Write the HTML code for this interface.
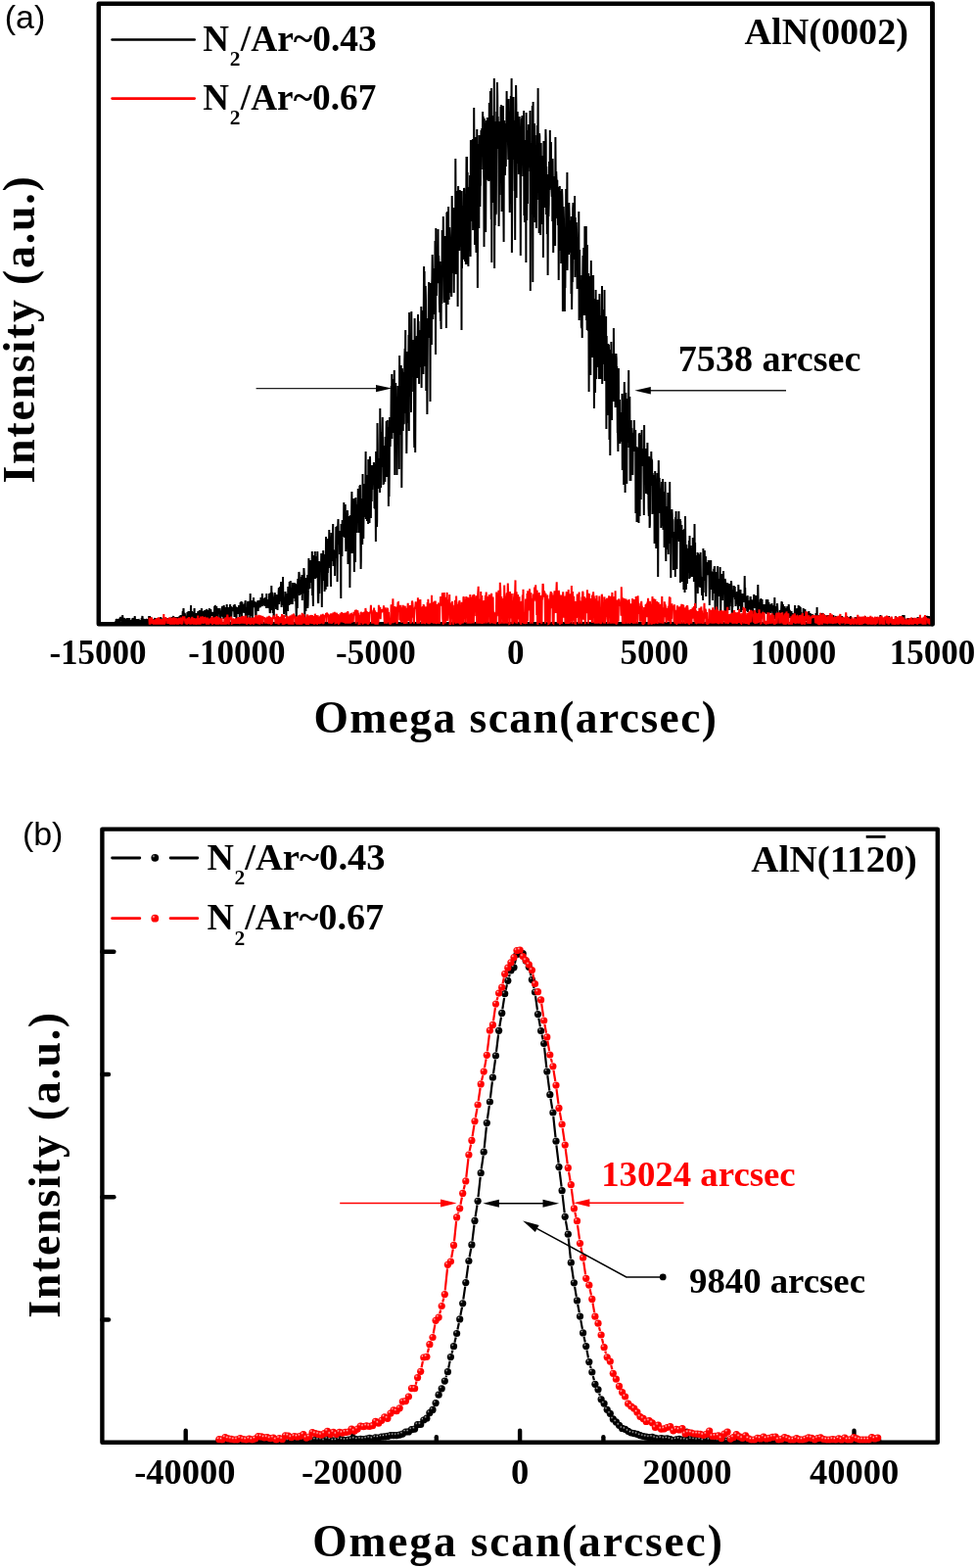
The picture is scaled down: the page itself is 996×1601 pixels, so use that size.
<!DOCTYPE html>
<html lang="en"><head><meta charset="utf-8"><title>XRD omega scans of AlN</title>
<style>
html,body{margin:0;padding:0;background:#fff;}
svg{display:block;}
text{font-family:"Liberation Serif", "Times New Roman", serif;font-weight:bold;fill:#000;}
.sans{font-family:"Liberation Sans", Arial, sans-serif;font-weight:normal;}
.red{fill:#ff0000;}
</style></head><body>
<svg width="996" height="1601" viewBox="0 0 996 1601">
<defs>
<radialGradient id="gk" cx="0.32" cy="0.3" r="0.5"><stop offset="0" stop-color="#bdbdbd"/><stop offset="0.3" stop-color="#222"/><stop offset="0.5" stop-color="#000"/></radialGradient>
<radialGradient id="gr" cx="0.32" cy="0.3" r="0.5"><stop offset="0" stop-color="#ffd0d0"/><stop offset="0.3" stop-color="#ff3030"/><stop offset="0.5" stop-color="#ff0000"/></radialGradient>
<clipPath id="ca"><rect x="100.8" y="0" width="850.2" height="640"/></clipPath>
</defs>
<rect width="996" height="1601" fill="#fff"/>
<rect x="100.8" y="3.7" width="851.7" height="633.6" fill="none" stroke="#000" stroke-width="4.5" stroke-linejoin="round"/>
<polyline fill="none" stroke="#000" stroke-width="2" stroke-linejoin="miter" stroke-miterlimit="2" points="118,634 118.3,635 118.6,634 118.8,632 119.1,633 119.4,632 119.7,634 119.9,636 120.2,633 120.5,633 120.8,636 121.1,635 121.3,635 121.6,632 121.9,634 122.2,636 122.4,631 122.7,633 123,630 123.3,631 123.6,630 123.8,634 124.1,631 124.4,635 124.7,635 125,634 125.2,628 125.5,633 125.8,634 126.1,635 126.3,631 126.6,633 126.9,632 127.2,632 127.5,636 127.7,632 128,634 128.3,636 128.6,633 128.8,634 129.1,635 129.4,634 129.7,631 130,634 130.2,636 130.5,631 130.8,636 131.1,635 131.3,633 131.6,636 131.9,636 132.2,631 132.5,634 132.7,636 133,634 133.3,636 133.6,634 133.9,636 134.1,636 134.4,633 134.7,635 135,633 135.2,635 135.5,631 135.8,633 136.1,634 136.4,636 136.6,636 136.9,631 137.2,632 137.5,636 137.7,629 138,633 138.3,634 138.6,636 138.9,636 139.1,633 139.4,633 139.7,634 140,636 140.2,633 140.5,633 140.8,635 141.1,634 141.4,634 141.6,632 141.9,634 142.2,633 142.5,636 142.8,636 143,634 143.3,636 143.6,633 143.9,636 144.1,634 144.4,636 144.7,631 145,635 145.3,630 145.5,629 145.8,633 146.1,632 146.4,635 146.6,636 146.9,632 147.2,633 147.5,635 147.8,636 148,634 148.3,634 148.6,636 148.9,636 149.1,632 149.4,634 149.7,634 150,632 150.3,635 150.5,632 150.8,636 151.1,635 151.4,635 151.6,633 151.9,634 152.2,629 152.5,632 152.8,635 153,629 153.3,636 153.6,630 153.9,636 154.2,632 154.4,636 154.7,635 155,631 155.3,636 155.5,636 155.8,634 156.1,634 156.4,634 156.7,632 156.9,636 157.2,633 157.5,634 157.8,632 158,633 158.3,631 158.6,636 158.9,634 159.2,636 159.4,634 159.7,633 160,633 160.3,633 160.5,634 160.8,633 161.1,633 161.4,631 161.7,632 161.9,636 162.2,633 162.5,632 162.8,635 163.1,636 163.3,631 163.6,634 163.9,633 164.2,630 164.4,636 164.7,634 165,634 165.3,632 165.6,636 165.8,633 166.1,634 166.4,632 166.7,631 166.9,636 167.2,633 167.5,635 167.8,634 168.1,633 168.3,633 168.6,636 168.9,633 169.2,634 169.4,634 169.7,636 170,636 170.3,636 170.6,633 170.8,631 171.1,636 171.4,636 171.7,634 171.9,636 172.2,636 172.5,636 172.8,636 173.1,633 173.3,636 173.6,631 173.9,636 174.2,636 174.5,636 174.7,636 175,636 175.3,631 175.6,630 175.8,636 176.1,632 176.4,634 176.7,636 177,630 177.2,629 177.5,635 177.8,634 178.1,634 178.3,634 178.6,632 178.9,630 179.2,634 179.5,632 179.7,630 180,636 180.3,634 180.6,635 180.8,631 181.1,632 181.4,631 181.7,631 182,634 182.2,631 182.5,634 182.8,634 183.1,636 183.4,629 183.6,636 183.9,632 184.2,632 184.5,628 184.7,631 185,635 185.3,632 185.6,632 185.9,631 186.1,636 186.4,631 186.7,624 187,629 187.2,625 187.5,621 187.8,629 188.1,636 188.4,631 188.6,626 188.9,627 189.2,635 189.5,631 189.7,630 190,629 190.3,630 190.6,633 190.9,632 191.1,630 191.4,625 191.7,632 192,626 192.3,635 192.5,624 192.8,628 193.1,629 193.4,624 193.6,636 193.9,636 194.2,627 194.5,632 194.8,630 195,618 195.3,629 195.6,628 195.9,628 196.1,624 196.4,627 196.7,627 197,634 197.3,630 197.5,628 197.8,636 198.1,626 198.4,626 198.6,621 198.9,636 199.2,633 199.5,633 199.8,631 200,628 200.3,629 200.6,627 200.9,627 201.1,628 201.4,636 201.7,631 202,627 202.3,625 202.5,625 202.8,636 203.1,630 203.4,628 203.7,626 203.9,623 204.2,627 204.5,632 204.8,626 205,627 205.3,627 205.6,628 205.9,621 206.2,626 206.4,624 206.7,632 207,624 207.3,631 207.5,636 207.8,626 208.1,625 208.4,628 208.7,627 208.9,623 209.2,630 209.5,636 209.8,626 210,626 210.3,623 210.6,629 210.9,622 211.2,623 211.4,634 211.7,623 212,633 212.3,636 212.6,628 212.8,630 213.1,636 213.4,626 213.7,624 213.9,621 214.2,627 214.5,635 214.8,632 215.1,623 215.3,623 215.6,625 215.9,628 216.2,626 216.4,628 216.7,628 217,625 217.3,626 217.6,628 217.8,626 218.1,629 218.4,636 218.7,630 218.9,627 219.2,619 219.5,629 219.8,618 220.1,620 220.3,631 220.6,630 220.9,626 221.2,619 221.5,625 221.7,623 222,630 222.3,636 222.6,627 222.8,623 223.1,621 223.4,626 223.7,625 224,621 224.2,627 224.5,621 224.8,633 225.1,632 225.3,632 225.6,624 225.9,629 226.2,625 226.5,624 226.7,624 227,620 227.3,619 227.6,630 227.8,625 228.1,627 228.4,632 228.7,618 229,622 229.2,626 229.5,628 229.8,624 230.1,632 230.3,626 230.6,620 230.9,621 231.2,630 231.5,628 231.7,617 232,634 232.3,629 232.6,633 232.9,623 233.1,623 233.4,620 233.7,636 234,624 234.2,635 234.5,622 234.8,626 235.1,617 235.4,623 235.6,631 235.9,619 236.2,631 236.5,627 236.7,620 237,622 237.3,622 237.6,624 237.9,622 238.1,620 238.4,623 238.7,619 239,618 239.2,624 239.5,630 239.8,617 240.1,624 240.4,621 240.6,619 240.9,629 241.2,621 241.5,634 241.8,620 242,626 242.3,622 242.6,620 242.9,627 243.1,623 243.4,627 243.7,623 244,618 244.3,623 244.5,623 244.8,630 245.1,619 245.4,623 245.6,615 245.9,627 246.2,618 246.5,614 246.8,622 247,630 247.3,615 247.6,617 247.9,619 248.1,617 248.4,625 248.7,618 249,619 249.3,626 249.5,618 249.8,625 250.1,617 250.4,616 250.7,613 250.9,635 251.2,620 251.5,624 251.8,622 252,623 252.3,622 252.6,636 252.9,616 253.2,614 253.4,616 253.7,615 254,627 254.3,627 254.5,616 254.8,614 255.1,619 255.4,631 255.7,606 255.9,625 256.2,615 256.5,629 256.8,615 257,619 257.3,613 257.6,615 257.9,631 258.2,627 258.4,618 258.7,616 259,610 259.3,618 259.5,620 259.8,619 260.1,619 260.4,614 260.7,619 260.9,619 261.2,630 261.5,634 261.8,619 262.1,615 262.3,619 262.6,616 262.9,615 263.2,619 263.4,613 263.7,624 264,618 264.3,621 264.6,618 264.8,614 265.1,613 265.4,617 265.7,615 265.9,620 266.2,618 266.5,610 266.8,619 267.1,610 267.3,614 267.6,616 267.9,606 268.2,618 268.4,619 268.7,616 269,615 269.3,615 269.6,611 269.8,615 270.1,614 270.4,618 270.7,610 271,619 271.2,618 271.5,616 271.8,614 272.1,621 272.3,606 272.6,620 272.9,618 273.2,619 273.5,619 273.7,612 274,614 274.3,621 274.6,619 274.8,617 275.1,606 275.4,620 275.7,626 276,624 276.2,617 276.5,605 276.8,623 277.1,614 277.3,598 277.6,618 277.9,605 278.2,606 278.5,610 278.7,626 279,611 279.3,616 279.6,630 279.8,629 280.1,613 280.4,612 280.7,605 281,608 281.2,617 281.5,617 281.8,614 282.1,622 282.4,607 282.6,612 282.9,620 283.2,618 283.5,623 283.7,616 284,610 284.3,615 284.6,604 284.9,600 285.1,617 285.4,611 285.7,614 286,599 286.2,608 286.5,606 286.8,604 287.1,594 287.4,608 287.6,620 287.9,614 288.2,605 288.5,609 288.7,618 289,589 289.3,608 289.6,615 289.9,616 290.1,627 290.4,621 290.7,612 291,612 291.3,617 291.5,604 291.8,608 292.1,618 292.4,630 292.6,606 292.9,607 293.2,609 293.5,622 293.8,607 294,624 294.3,599 294.6,605 294.9,605 295.1,615 295.4,618 295.7,594 296,598 296.3,609 296.5,600 296.8,593 297.1,617 297.4,611 297.6,610 297.9,600 298.2,617 298.5,602 298.8,617 299,596 299.3,596 299.6,606 299.9,597 300.2,611 300.4,606 300.7,595 301,603 301.3,599 301.5,614 301.8,596 302.1,598 302.4,617 302.7,630 302.9,627 303.2,602 303.5,604 303.8,621 304,599 304.3,591 304.6,601 304.9,606 305.2,592 305.4,584 305.7,586 306,608 306.3,592 306.5,597 306.8,601 307.1,607 307.4,595 307.7,605 307.9,589 308.2,594 308.5,587 308.8,613 309,596 309.3,589 309.6,593 309.9,594 310.2,606 310.4,580 310.7,585 311,591 311.3,631 311.6,609 311.8,593 312.1,605 312.4,624 312.7,591 312.9,590 313.2,611 313.5,600 313.8,603 314.1,587 314.3,621 314.6,618 314.9,600 315.2,602 315.4,570 315.7,601 316,589 316.3,597 316.6,601 316.8,587 317.1,572 317.4,595 317.7,581 317.9,586 318.2,582 318.5,585 318.8,563 319.1,608 319.3,592 319.6,605 319.9,619 320.2,587 320.5,567 320.7,577 321,573 321.3,580 321.6,587 321.8,563 322.1,591 322.4,568 322.7,590 323,583 323.2,580 323.5,583 323.8,577 324.1,576 324.3,563 324.6,582 324.9,614 325.2,616 325.5,605 325.7,594 326,573 326.3,606 326.6,580 326.8,579 327.1,576 327.4,581 327.7,574 328,578 328.2,565 328.5,574 328.8,620 329.1,577 329.4,574 329.6,587 329.9,590 330.2,562 330.5,573 330.7,593 331,580 331.3,577 331.6,604 331.9,566 332.1,576 332.4,567 332.7,602 333,548 333.2,564 333.5,565 333.8,585 334.1,583 334.4,599 334.6,550 334.9,585 335.2,566 335.5,561 335.7,580 336,557 336.3,541 336.6,563 336.9,548 337.1,559 337.4,575 337.7,573 338,599 338.2,563 338.5,544 338.8,555 339.1,552 339.4,548 339.6,573 339.9,555 340.2,535 340.5,578 340.8,561 341,570 341.3,564 341.6,575 341.9,562 342.1,588 342.4,570 342.7,569 343,569 343.3,538 343.5,556 343.8,555 344.1,563 344.4,537 344.6,594 344.9,559 345.2,538 345.5,530 345.8,551 346,554 346.3,544 346.6,556 346.9,544 347.1,566 347.4,542 347.7,552 348,575 348.3,611 348.5,535 348.8,543 349.1,537 349.4,568 349.7,531 349.9,541 350.2,548 350.5,532 350.8,532 351,540 351.3,513 351.6,523 351.9,539 352.2,549 352.4,542 352.7,515 353,536 353.3,563 353.5,557 353.8,541 354.1,527 354.4,557 354.7,531 354.9,521 355.2,527 355.5,576 355.8,545 356,568 356.3,530 356.6,562 356.9,527 357.2,534 357.4,600 357.7,555 358,526 358.3,533 358.6,543 358.8,565 359.1,525 359.4,502 359.7,527 359.9,532 360.2,534 360.5,565 360.8,538 361.1,551 361.3,509 361.6,552 361.9,584 362.2,548 362.4,534 362.7,531 363,574 363.3,508 363.6,523 363.8,537 364.1,544 364.4,515 364.7,531 364.9,517 365.2,525 365.5,518 365.8,499 366.1,519 366.3,544 366.6,500 366.9,513 367.2,536 367.4,496 367.7,522 368,495 368.3,548 368.6,581 368.8,572 369.1,509 369.4,534 369.7,516 370,515 370.2,556 370.5,484 370.8,541 371.1,508 371.3,550 371.6,514 371.9,494 372.2,515 372.5,528 372.7,507 373,520 373.3,494 373.6,461 373.8,530 374.1,524 374.4,506 374.7,503 375,532 375.2,491 375.5,485 375.8,495 376.1,535 376.3,469 376.6,533 376.9,483 377.2,473 377.5,534 377.7,492 378,466 378.3,486 378.6,521 378.9,529 379.1,482 379.4,503 379.7,512 380,475 380.2,500 380.5,487 380.8,476 381.1,476 381.4,488 381.6,486 381.9,472 382.2,475 382.5,519 382.7,489 383,510 383.3,520 383.6,499 383.9,553 384.1,461 384.4,505 384.7,471 385,538 385.2,532 385.5,432 385.8,453 386.1,496 386.4,499 386.6,497 386.9,470 387.2,486 387.5,492 387.7,468 388,503 388.3,417 388.6,489 388.9,443 389.1,498 389.4,460 389.7,444 390,477 390.3,442 390.5,442 390.8,426 391.1,461 391.4,477 391.6,495 391.9,456 392.2,494 392.5,458 392.8,455 393,476 393.3,492 393.6,446 393.9,448 394.1,449 394.4,455 394.7,430 395,487 395.3,440 395.5,465 395.8,429 396.1,460 396.4,461 396.6,436 396.9,517 397.2,458 397.5,507 397.8,477 398,426 398.3,432 398.6,456 398.9,442 399.2,441 399.4,431 399.7,394 400,431 400.3,382 400.5,448 400.8,417 401.1,416 401.4,427 401.7,442 401.9,396 402.2,387 402.5,403 402.8,378 403,404 403.3,485 403.6,400 403.9,449 404.2,391 404.4,435 404.7,415 405,421 405.3,442 405.5,485 405.8,427 406.1,423 406.4,394 406.7,439 406.9,410 407.2,447 407.5,414 407.8,479 408.1,363 408.3,405 408.6,444 408.9,402 409.2,390 409.4,402 409.7,373 410,412 410.3,498 410.6,449 410.8,376 411.1,381 411.4,393 411.7,440 411.9,380 412.2,383 412.5,433 412.8,432 413.1,388 413.3,368 413.6,356 413.9,377 414.2,337 414.4,422 414.7,376 415,410 415.3,463 415.6,435 415.8,359 416.1,422 416.4,432 416.7,367 416.9,361 417.2,382 417.5,342 417.8,440 418.1,319 418.3,352 418.6,373 418.9,374 419.2,385 419.5,388 419.7,371 420,421 420.3,318 420.6,374 420.8,355 421.1,378 421.4,380 421.7,347 422,353 422.2,400 422.5,382 422.8,349 423.1,447 423.3,457 423.6,325 423.9,376 424.2,462 424.5,393 424.7,370 425,355 425.3,345 425.6,353 425.8,343 426.1,386 426.4,345 426.7,343 427,321 427.2,352 427.5,328 427.8,346 428.1,392 428.4,364 428.6,369 428.9,362 429.2,349 429.5,342 429.7,337 430,375 430.3,313 430.6,396 430.9,343 431.1,320 431.4,326 431.7,320 432,344 432.2,317 432.5,382 432.8,313 433.1,272 433.4,313 433.6,277 433.9,330 434.2,374 434.5,356 434.7,292 435,307 435.3,399 435.6,339 435.9,325 436.1,367 436.4,423 436.7,375 437,327 437.3,335 437.5,345 437.8,302 438.1,288 438.4,319 438.6,290 438.9,313 439.2,318 439.5,410 439.8,289 440,308 440.3,306 440.6,328 440.9,352 441.1,294 441.4,284 441.7,260 442,279 442.3,326 442.5,305 442.8,274 443.1,291 443.4,302 443.6,321 443.9,282 444.2,291 444.5,246 444.8,264 445,362 445.3,233 445.6,284 445.9,302 446.1,281 446.4,268 446.7,288 447,289 447.3,286 447.5,234 447.8,282 448.1,261 448.4,269 448.7,293 448.9,310 449.2,319 449.5,267 449.8,319 450,328 450.3,326 450.6,336 450.9,273 451.2,271 451.4,310 451.7,235 452,282 452.3,257 452.5,261 452.8,221 453.1,244 453.4,268 453.7,305 453.9,309 454.2,264 454.5,260 454.8,241 455,281 455.3,256 455.6,288 455.9,335 456.2,259 456.4,217 456.7,234 457,216 457.3,223 457.6,311 457.8,265 458.1,211 458.4,281 458.7,306 458.9,242 459.2,232 459.5,241 459.8,261 460.1,276 460.3,298 460.6,298 460.9,296 461.2,303 461.4,272 461.7,200 462,239 462.3,255 462.6,230 462.8,279 463.1,229 463.4,212 463.7,299 463.9,265 464.2,246 464.5,275 464.8,280 465.1,248 465.3,162 465.6,213 465.9,218 466.2,202 466.5,238 466.7,280 467,214 467.3,195 467.6,313 467.8,213 468.1,190 468.4,235 468.7,242 469,203 469.2,256 469.5,207 469.8,194 470.1,228 470.3,252 470.6,200 470.9,232 471.2,214 471.5,337 471.7,195 472,274 472.3,213 472.6,210 472.8,243 473.1,250 473.4,265 473.7,224 474,192 474.2,193 474.5,230 474.8,232 475.1,267 475.3,224 475.6,251 475.9,270 476.2,211 476.5,160 476.7,168 477,160 477.3,270 477.6,176 477.9,253 478.1,224 478.4,272 478.7,241 479,194 479.2,191 479.5,200 479.8,203 480.1,179 480.4,193 480.6,262 480.9,143 481.2,203 481.5,165 481.7,199 482,226 482.3,188 482.6,222 482.9,142 483.1,235 483.4,169 483.7,213 484,194 484.2,110 484.5,163 484.8,194 485.1,250 485.4,195 485.6,193 485.9,140 486.2,243 486.5,258 486.8,181 487,173 487.3,132 487.6,216 487.9,294 488.1,208 488.4,231 488.7,199 489,147 489.3,233 489.5,138 489.8,168 490.1,185 490.4,211 490.6,190 490.9,189 491.2,149 491.5,133 491.8,173 492,149 492.3,131 492.6,132 492.9,154 493.1,114 493.4,128 493.7,119 494,174 494.3,184 494.5,252 494.8,121 495.1,145 495.4,204 495.6,157 495.9,154 496.2,237 496.5,153 496.8,128 497,123 497.3,176 497.6,174 497.9,120 498.2,131 498.4,183 498.7,184 499,140 499.3,185 499.5,183 499.8,105 500.1,148 500.4,175 500.7,140 500.9,93 501.2,148 501.5,188 501.8,224 502,90 502.3,268 502.6,121 502.9,195 503.2,207 503.4,196 503.7,159 504,118 504.3,179 504.5,131 504.8,80 505.1,274 505.4,182 505.7,230 505.9,124 506.2,214 506.5,219 506.8,217 507.1,149 507.3,114 507.6,144 507.9,84 508.2,98 508.4,152 508.7,119 509,143 509.3,144 509.6,231 509.8,203 510.1,146 510.4,199 510.7,124 510.9,136 511.2,186 511.5,109 511.8,138 512.1,107 512.3,151 512.6,216 512.9,123 513.2,155 513.4,118 513.7,111 514,108 514.3,208 514.6,247 514.8,165 515.1,123 515.4,175 515.7,134 516,179 516.2,156 516.5,156 516.8,170 517.1,126 517.3,131 517.6,93 517.9,130 518.2,101 518.5,139 518.7,115 519,147 519.3,163 519.6,101 519.8,119 520.1,115 520.4,175 520.7,217 521,180 521.2,133 521.5,206 521.8,98 522.1,208 522.3,124 522.6,80 522.9,258 523.2,211 523.5,113 523.7,150 524,137 524.3,147 524.6,99 524.8,123 525.1,163 525.4,153 525.7,195 526,147 526.2,245 526.5,123 526.8,155 527.1,87 527.4,107 527.6,202 527.9,116 528.2,167 528.5,143 528.7,114 529,134 529.3,130 529.6,131 529.9,178 530.1,173 530.4,128 530.7,119 531,158 531.2,143 531.5,191 531.8,261 532.1,183 532.4,146 532.6,142 532.9,122 533.2,121 533.5,118 533.7,136 534,135 534.3,180 534.6,137 534.9,143 535.1,113 535.4,220 535.7,171 536,227 536.3,184 536.5,215 536.8,143 537.1,182 537.4,268 537.6,115 537.9,202 538.2,225 538.5,170 538.8,185 539,208 539.3,133 539.6,171 539.9,127 540.1,134 540.4,136 540.7,150 541,161 541.3,175 541.5,113 541.8,297 542.1,207 542.4,189 542.6,146 542.9,155 543.2,182 543.5,176 543.8,108 544,192 544.3,288 544.6,104 544.9,204 545.2,177 545.4,158 545.7,222 546,126 546.3,169 546.5,227 546.8,157 547.1,151 547.4,169 547.7,151 547.9,233 548.2,138 548.5,204 548.8,128 549,196 549.3,164 549.6,90 549.9,168 550.2,136 550.4,156 550.7,238 551,136 551.3,139 551.5,235 551.8,177 552.1,240 552.4,187 552.7,146 552.9,171 553.2,229 553.5,216 553.8,175 554,178 554.3,173 554.6,159 554.9,263 555.2,178 555.4,144 555.7,165 556,212 556.3,208 556.6,176 556.8,161 557.1,183 557.4,132 557.7,144 557.9,219 558.2,170 558.5,201 558.8,239 559.1,215 559.3,187 559.6,281 559.9,217 560.2,178 560.4,221 560.7,208 561,165 561.3,194 561.6,187 561.8,133 562.1,188 562.4,185 562.7,181 562.9,145 563.2,185 563.5,195 563.8,201 564.1,163 564.3,226 564.6,162 564.9,193 565.2,258 565.5,180 565.7,186 566,249 566.3,191 566.6,195 566.8,214 567.1,251 567.4,140 567.7,181 568,177 568.2,175 568.5,183 568.8,184 569.1,223 569.3,184 569.6,217 569.9,230 570.2,191 570.5,219 570.7,286 571,229 571.3,197 571.6,214 571.8,190 572.1,230 572.4,256 572.7,195 573,214 573.2,269 573.5,207 573.8,231 574.1,193 574.4,200 574.6,209 574.9,318 575.2,214 575.5,212 575.7,211 576,224 576.3,257 576.6,238 576.9,318 577.1,241 577.4,294 577.7,245 578,260 578.2,193 578.5,232 578.8,234 579.1,230 579.4,176 579.6,276 579.9,228 580.2,228 580.5,234 580.7,235 581,260 581.3,207 581.6,218 581.9,258 582.1,252 582.4,236 582.7,231 583,225 583.2,248 583.5,300 583.8,221 584.1,316 584.4,288 584.6,241 584.9,288 585.2,213 585.5,207 585.8,220 586,246 586.3,249 586.6,245 586.9,265 587.1,200 587.4,283 587.7,222 588,245 588.3,253 588.5,233 588.8,227 589.1,239 589.4,268 589.6,294 589.9,294 590.2,242 590.5,249 590.8,246 591,292 591.3,216 591.6,327 591.9,262 592.1,255 592.4,292 592.7,322 593,294 593.3,324 593.5,287 593.8,333 594.1,335 594.4,281 594.7,345 594.9,292 595.2,290 595.5,261 595.8,280 596,322 596.3,253 596.6,318 596.9,306 597.2,304 597.4,231 597.7,292 598,322 598.3,275 598.5,301 598.8,231 599.1,327 599.4,281 599.7,337 599.9,250 600.2,331 600.5,297 600.8,338 601,279 601.3,289 601.6,400 601.9,285 602.2,289 602.4,302 602.7,282 603,361 603.3,383 603.5,294 603.8,266 604.1,363 604.4,362 604.7,351 604.9,365 605.2,295 605.5,315 605.8,282 606.1,282 606.3,362 606.6,305 606.9,417 607.2,328 607.4,308 607.7,359 608,401 608.3,349 608.6,296 608.8,346 609.1,387 609.4,319 609.7,312 609.9,375 610.2,341 610.5,306 610.8,326 611.1,317 611.3,351 611.6,344 611.9,387 612.2,370 612.4,300 612.7,360 613,380 613.3,363 613.6,387 613.8,332 614.1,322 614.4,386 614.7,321 615,292 615.2,392 615.5,333 615.8,345 616.1,316 616.3,319 616.6,325 616.9,347 617.2,372 617.5,296 617.7,389 618,328 618.3,332 618.6,389 618.8,361 619.1,323 619.4,438 619.7,343 620,376 620.2,375 620.5,424 620.8,357 621.1,410 621.3,351 621.6,416 621.9,352 622.2,364 622.5,449 622.7,388 623,381 623.3,465 623.6,392 623.9,357 624.1,408 624.4,349 624.7,425 625,429 625.2,368 625.5,368 625.8,392 626.1,386 626.4,361 626.6,410 626.9,335 627.2,378 627.5,380 627.7,384 628,404 628.3,361 628.6,416 628.9,390 629.1,379 629.4,361 629.7,366 630,412 630.2,374 630.5,402 630.8,441 631.1,441 631.4,461 631.6,395 631.9,376 632.2,443 632.5,417 632.7,449 633,408 633.3,453 633.6,441 633.9,437 634.1,430 634.4,426 634.7,421 635,422 635.3,451 635.5,402 635.8,480 636.1,414 636.4,454 636.6,416 636.9,413 637.2,495 637.5,413 637.8,390 638,404 638.3,415 638.6,503 638.9,432 639.1,460 639.4,401 639.7,440 640,452 640.3,494 640.5,412 640.8,452 641.1,442 641.4,407 641.6,432 641.9,427 642.2,378 642.5,457 642.8,455 643,426 643.3,405 643.6,491 643.9,449 644.2,476 644.4,491 644.7,429 645,471 645.3,437 645.5,442 645.8,443 646.1,445 646.4,485 646.7,451 646.9,444 647.2,442 647.5,461 647.8,429 648,439 648.3,450 648.6,439 648.9,450 649.2,439 649.4,524 649.7,501 650,472 650.3,456 650.5,533 650.8,469 651.1,457 651.4,470 651.7,471 651.9,509 652.2,462 652.5,534 652.8,443 653.1,488 653.3,442 653.6,527 653.9,459 654.2,466 654.4,499 654.7,510 655,444 655.3,462 655.6,439 655.8,476 656.1,470 656.4,465 656.7,458 656.9,466 657.2,458 657.5,493 657.8,526 658.1,434 658.3,475 658.6,469 658.9,495 659.2,459 659.4,477 659.7,458 660,504 660.3,486 660.6,480 660.8,496 661.1,479 661.4,452 661.7,505 661.9,496 662.2,484 662.5,519 662.8,527 663.1,466 663.3,473 663.6,539 663.9,536 664.2,476 664.5,468 664.7,480 665,483 665.3,461 665.6,496 665.8,469 666.1,471 666.4,525 666.7,483 667,497 667.2,518 667.5,524 667.8,493 668.1,502 668.3,485 668.6,555 668.9,522 669.2,481 669.5,504 669.7,526 670,519 670.3,560 670.6,547 670.8,496 671.1,506 671.4,483 671.7,516 672,514 672.2,589 672.5,513 672.8,470 673.1,499 673.4,516 673.6,488 673.9,497 674.2,507 674.5,524 674.7,512 675,499 675.3,539 675.6,507 675.9,508 676.1,492 676.4,504 676.7,537 677,489 677.2,519 677.5,541 677.8,514 678.1,529 678.4,502 678.6,559 678.9,554 679.2,531 679.5,492 679.7,506 680,552 680.3,573 680.6,535 680.9,561 681.1,517 681.4,525 681.7,529 682,541 682.3,503 682.5,556 682.8,566 683.1,511 683.4,508 683.6,542 683.9,522 684.2,492 684.5,555 684.8,539 685,527 685.3,590 685.6,540 685.9,524 686.1,540 686.4,520 686.7,525 687,549 687.3,530 687.5,532 687.8,582 688.1,562 688.4,561 688.6,555 688.9,554 689.2,579 689.5,543 689.8,589 690,528 690.3,540 690.6,522 690.9,540 691.1,558 691.4,581 691.7,536 692,547 692.3,542 692.5,536 692.8,530 693.1,551 693.4,522 693.7,553 693.9,551 694.2,540 694.5,535 694.8,530 695,595 695.3,532 695.6,589 695.9,567 696.2,548 696.4,536 696.7,578 697,594 697.3,541 697.5,551 697.8,580 698.1,564 698.4,602 698.7,549 698.9,570 699.2,540 699.5,605 699.8,548 700,527 700.3,558 700.6,558 700.9,602 701.2,556 701.4,562 701.7,575 702,596 702.3,562 702.6,585 702.8,575 703.1,560 703.4,566 703.7,565 703.9,552 704.2,591 704.5,547 704.8,590 705.1,586 705.3,566 705.6,557 705.9,565 706.2,578 706.4,583 706.7,575 707,589 707.3,562 707.6,575 707.8,549 708.1,586 708.4,574 708.7,566 708.9,594 709.2,585 709.5,535 709.8,573 710.1,554 710.3,594 710.6,621 710.9,567 711.2,576 711.4,572 711.7,582 712,587 712.3,600 712.6,564 712.8,606 713.1,565 713.4,582 713.7,599 714,591 714.2,566 714.5,570 714.8,573 715.1,578 715.3,600 715.6,564 715.9,588 716.2,591 716.5,590 716.7,589 717,608 717.3,590 717.6,597 717.8,592 718.1,613 718.4,560 718.7,605 719,580 719.2,580 719.5,572 719.8,562 720.1,580 720.3,577 720.6,593 720.9,568 721.2,609 721.5,590 721.7,583 722,578 722.3,578 722.6,574 722.9,581 723.1,587 723.4,586 723.7,572 724,585 724.2,579 724.5,591 724.8,618 725.1,599 725.4,586 725.6,572 725.9,575 726.2,572 726.5,602 726.7,583 727,592 727.3,585 727.6,593 727.9,613 728.1,585 728.4,589 728.7,584 729,606 729.2,582 729.5,582 729.8,579 730.1,579 730.4,601 730.6,632 730.9,584 731.2,608 731.5,598 731.8,584 732,592 732.3,593 732.6,589 732.9,623 733.1,578 733.4,602 733.7,601 734,591 734.3,599 734.5,609 734.8,599 735.1,603 735.4,607 735.6,579 735.9,618 736.2,629 736.5,612 736.8,612 737,586 737.3,598 737.6,592 737.9,594 738.1,613 738.4,593 738.7,599 739,583 739.3,599 739.5,602 739.8,595 740.1,595 740.4,626 740.6,591 740.9,593 741.2,595 741.5,617 741.8,629 742,607 742.3,596 742.6,599 742.9,616 743.2,595 743.4,621 743.7,621 744,605 744.3,612 744.5,613 744.8,623 745.1,596 745.4,619 745.7,602 745.9,599 746.2,606 746.5,603 746.8,597 747,593 747.3,598 747.6,623 747.9,629 748.2,614 748.4,620 748.7,602 749,606 749.3,610 749.5,599 749.8,599 750.1,608 750.4,605 750.7,599 750.9,612 751.2,606 751.5,619 751.8,608 752.1,606 752.3,610 752.6,607 752.9,604 753.2,606 753.4,617 753.7,616 754,623 754.3,597 754.6,607 754.8,607 755.1,612 755.4,607 755.7,606 755.9,619 756.2,612 756.5,602 756.8,625 757.1,621 757.3,607 757.6,620 757.9,606 758.2,623 758.4,610 758.7,606 759,609 759.3,607 759.6,614 759.8,614 760.1,613 760.4,609 760.7,588 761,613 761.2,600 761.5,615 761.8,624 762.1,616 762.3,611 762.6,612 762.9,612 763.2,610 763.5,610 763.7,608 764,625 764.3,614 764.6,623 764.8,613 765.1,615 765.4,613 765.7,619 766,622 766.2,617 766.5,610 766.8,610 767.1,630 767.3,613 767.6,613 767.9,629 768.2,625 768.5,620 768.7,613 769,636 769.3,619 769.6,621 769.8,615 770.1,607 770.4,608 770.7,620 771,620 771.2,615 771.5,609 771.8,608 772.1,615 772.4,608 772.6,625 772.9,627 773.2,636 773.5,625 773.7,614 774,612 774.3,597 774.6,614 774.9,617 775.1,626 775.4,623 775.7,623 776,620 776.2,624 776.5,630 776.8,612 777.1,616 777.4,611 777.6,632 777.9,629 778.2,625 778.5,612 778.7,620 779,618 779.3,620 779.6,618 779.9,623 780.1,617 780.4,626 780.7,621 781,618 781.3,619 781.5,617 781.8,626 782.1,618 782.4,622 782.6,618 782.9,612 783.2,627 783.5,615 783.8,626 784,624 784.3,612 784.6,615 784.9,618 785.1,616 785.4,615 785.7,626 786,620 786.3,624 786.5,619 786.8,623 787.1,617 787.4,621 787.6,626 787.9,622 788.2,619 788.5,616 788.8,623 789,624 789.3,620 789.6,618 789.9,626 790.2,636 790.4,620 790.7,624 791,625 791.3,610 791.5,623 791.8,619 792.1,632 792.4,621 792.7,619 792.9,621 793.2,624 793.5,620 793.8,622 794,616 794.3,622 794.6,628 794.9,636 795.2,628 795.4,625 795.7,631 796,630 796.3,635 796.5,631 796.8,623 797.1,625 797.4,625 797.7,626 797.9,625 798.2,620 798.5,614 798.8,621 799,615 799.3,624 799.6,624 799.9,617 800.2,629 800.4,630 800.7,625 801,635 801.3,636 801.6,619 801.8,631 802.1,627 802.4,627 802.7,631 802.9,622 803.2,622 803.5,621 803.8,622 804.1,625 804.3,619 804.6,621 804.9,629 805.2,625 805.4,628 805.7,617 806,622 806.3,623 806.6,626 806.8,623 807.1,631 807.4,625 807.7,626 807.9,626 808.2,630 808.5,624 808.8,633 809.1,629 809.3,627 809.6,626 809.9,629 810.2,632 810.5,632 810.7,629 811,632 811.3,627 811.6,634 811.8,626 812.1,618 812.4,634 812.7,627 813,622 813.2,626 813.5,623 813.8,636 814.1,630 814.3,621 814.6,630 814.9,625 815.2,636 815.5,623 815.7,618 816,628 816.3,626 816.6,626 816.8,619 817.1,630 817.4,636 817.7,620 818,634 818.2,625 818.5,636 818.8,630 819.1,627 819.3,634 819.6,631 819.9,626 820.2,632 820.5,626 820.7,621 821,636 821.3,627 821.6,626 821.9,630 822.1,623 822.4,623 822.7,627 823,627 823.2,629 823.5,634 823.8,627 824.1,631 824.4,632 824.6,625 824.9,630 825.2,625 825.5,634 825.7,631 826,629 826.3,624 826.6,630 826.9,626 827.1,633 827.4,629 827.7,626 828,634 828.2,633 828.5,627 828.8,635 829.1,628 829.4,628 829.6,630 829.9,627 830.2,628 830.5,629 830.8,636 831,636 831.3,629 831.6,636 831.9,630 832.1,632 832.4,634 832.7,631 833,636 833.3,631 833.5,626 833.8,636 834.1,629 834.4,629 834.6,620 834.9,635 835.2,634 835.5,634 835.8,635 836,636 836.3,630 836.6,635 836.9,628 837.1,629 837.4,635 837.7,632 838,626 838.3,632 838.5,630 838.8,628 839.1,633 839.4,630 839.7,626 839.9,627 840.2,636 840.5,626 840.8,632 841,634 841.3,634 841.6,627 841.9,630 842.2,632 842.4,635 842.7,629 843,628 843.3,636 843.5,636 843.8,633 844.1,630 844.4,633 844.7,632 844.9,635 845.2,628 845.5,632 845.8,631 846,628 846.3,633 846.6,632 846.9,631 847.2,633 847.4,628 847.7,632 848,634 848.3,633 848.5,636 848.8,629 849.1,628 849.4,633 849.7,634 849.9,636 850.2,635 850.5,630 850.8,636 851.1,630 851.3,628 851.6,636 851.9,634 852.2,635 852.4,635 852.7,636 853,634 853.3,636 853.6,630 853.8,629 854.1,636 854.4,636 854.7,635 854.9,634 855.2,633 855.5,631 855.8,636 856.1,635 856.3,635 856.6,634 856.9,636 857.2,635 857.4,636 857.7,630 858,635 858.3,636 858.6,632 858.8,633 859.1,636 859.4,636 859.7,636 860,629 860.2,635 860.5,630 860.8,631 861.1,635 861.3,633 861.6,636 861.9,636 862.2,636 862.5,636 862.7,631 863,632 863.3,631 863.6,632 863.8,631 864.1,632 864.4,633 864.7,631 865,630 865.2,630 865.5,635 865.8,634 866.1,636 866.3,636 866.6,633 866.9,636 867.2,630 867.5,636 867.7,636 868,633 868.3,631 868.6,635 868.9,629 869.1,632 869.4,636 869.7,634 870,633 870.2,636 870.5,632 870.8,635 871.1,633 871.4,632 871.6,636 871.9,632 872.2,636 872.5,633 872.7,636 873,632 873.3,636 873.6,631 873.9,631 874.1,635 874.4,636 874.7,631 875,636 875.2,632 875.5,635 875.8,636 876.1,636 876.4,630 876.6,636 876.9,636 877.2,633 877.5,632 877.7,630 878,631 878.3,636 878.6,633 878.9,632 879.1,633 879.4,636 879.7,633 880,633 880.3,636 880.5,636 880.8,634 881.1,633 881.4,631 881.6,631 881.9,633 882.2,634 882.5,635 882.8,636 883,635 883.3,635 883.6,632 883.9,629 884.1,633 884.4,632 884.7,633 885,634 885.3,631 885.5,632 885.8,634 886.1,635 886.4,633 886.6,636 886.9,634 887.2,632 887.5,634 887.8,636 888,633 888.3,636 888.6,636 888.9,636 889.2,632 889.4,636 889.7,635 890,634 890.3,634 890.5,636 890.8,634 891.1,634 891.4,636 891.7,632 891.9,632 892.2,636 892.5,636 892.8,636 893,632 893.3,636 893.6,636 893.9,636 894.2,631 894.4,635 894.7,634 895,630 895.3,633 895.5,636 895.8,633 896.1,632 896.4,636 896.7,636 896.9,636 897.2,632 897.5,634 897.8,636 898.1,633 898.3,632 898.6,636 898.9,636 899.2,631 899.4,628 899.7,631 900,632 900.3,634 900.6,636 900.8,634 901.1,633 901.4,635 901.7,632 901.9,634 902.2,633 902.5,636 902.8,636 903.1,632 903.3,632 903.6,633 903.9,630 904.2,632 904.4,632 904.7,636 905,633 905.3,632 905.6,631 905.8,631 906.1,634 906.4,634 906.7,636 906.9,633 907.2,636 907.5,635 907.8,634 908.1,629 908.3,631 908.6,636 908.9,636 909.2,635 909.5,636 909.7,633 910,633 910.3,633 910.6,636 910.8,635 911.1,634 911.4,633 911.7,636 912,635 912.2,632 912.5,636 912.8,635 913.1,634 913.3,636 913.6,636 913.9,634 914.2,636 914.5,632 914.7,633 915,629 915.3,636 915.6,630 915.8,636 916.1,632 916.4,632 916.7,634 917,635 917.2,636 917.5,636 917.8,635 918.1,636 918.4,633 918.6,636 918.9,635 919.2,633 919.5,634 919.7,634 920,635 920.3,636 920.6,633 920.9,632 921.1,636 921.4,630 921.7,633 922,636 922.2,628 922.5,633 922.8,636 923.1,630 923.4,636 923.6,628 923.9,636 924.2,636 924.5,636 924.7,634 925,635 925.3,632 925.6,636 925.9,632 926.1,634 926.4,636 926.7,632 927,633 927.2,635 927.5,631 927.8,636 928.1,635 928.4,631 928.6,634 928.9,632 929.2,633 929.5,634 929.8,633 930,636 930.3,633 930.6,636 930.9,634 931.1,636 931.4,633 931.7,633 932,631 932.3,636 932.5,636 932.8,636 933.1,636 933.4,635 933.6,634 933.9,636 934.2,634 934.5,636 934.8,636 935,632 935.3,633 935.6,636 935.9,635 936.1,634 936.4,636 936.7,633 937,634 937.3,633 937.5,630 937.8,636 938.1,631 938.4,633 938.7,632 938.9,636 939.2,634 939.5,634 939.8,630 940,634 940.3,631 940.6,635 940.9,635 941.2,634 941.4,636 941.7,636 942,636 942.3,635 942.5,634 942.8,636 943.1,636 943.4,631 943.7,636 943.9,636 944.2,636 944.5,636 944.8,631 945,631 945.3,636 945.6,635 945.9,631 946.2,635 946.4,633 946.7,630 947,629 947.3,630 947.6,635 947.8,634 948.1,634 948.4,635 948.7,636 948.9,629 949.2,633 949.5,632 949.8,631 950.1,633 950.3,634 950.6,634 950.9,631 951.2,633 951.4,636 951.7,632 952,630"/>
<polyline clip-path="url(#ca)" fill="none" stroke="#ff0000" stroke-width="2" stroke-linejoin="miter" stroke-miterlimit="2" points="152,631.4 152.4,631 152.7,636.8 153.1,636.8 153.5,636.8 153.8,631.1 154.2,631.4 154.5,636.8 154.9,630.3 155.3,636.8 155.6,632.7 156,636.8 156.4,632.2 156.7,636.8 157.1,636.8 157.5,636.8 157.8,632.9 158.2,636.8 158.5,636.8 158.9,636.8 159.3,632.1 159.6,636.8 160,631 160.4,636.8 160.7,636.8 161.1,636.8 161.5,631.1 161.8,636.8 162.2,630.2 162.5,636.8 162.9,636.8 163.3,631.8 163.6,636.8 164,636.8 164.4,632.3 164.7,636.8 165.1,636.8 165.5,632.2 165.8,636.8 166.2,636.8 166.5,636.8 166.9,636.8 167.3,627.1 167.6,636.8 168,636.8 168.4,632.5 168.7,636.8 169.1,630.3 169.5,632.3 169.8,631.9 170.2,632.6 170.5,632.4 170.9,631.7 171.3,636.8 171.6,632.2 172,636.8 172.4,631.9 172.7,632.9 173.1,631.1 173.5,630.6 173.8,636.8 174.2,636.8 174.5,636.8 174.9,636.8 175.3,636.8 175.6,630.7 176,636.8 176.4,636.8 176.7,632.6 177.1,636.8 177.5,630.4 177.8,636.8 178.2,636.8 178.5,636.8 178.9,632.4 179.3,636.8 179.6,630.9 180,636.8 180.4,631.3 180.7,636.8 181.1,636.8 181.4,631.6 181.8,632.5 182.2,636.8 182.5,636.8 182.9,630.9 183.3,636.8 183.6,631 184,632.2 184.4,636.8 184.7,631.8 185.1,630.6 185.4,636.8 185.8,636.8 186.2,632 186.5,636.8 186.9,630.4 187.3,630.6 187.6,631.5 188,630.2 188.4,630.2 188.7,632.6 189.1,632.3 189.4,636.8 189.8,632 190.2,632.5 190.5,636.8 190.9,636.8 191.3,636.8 191.6,630.7 192,636.8 192.4,632.1 192.7,636.8 193.1,630 193.4,636.8 193.8,631.2 194.2,636.8 194.5,636.8 194.9,636.8 195.3,632.6 195.6,636.8 196,632.2 196.4,629.9 196.7,636.7 197.1,632.3 197.4,636.8 197.8,636.8 198.2,632.2 198.5,631.3 198.9,632.8 199.3,636.7 199.6,636.7 200,636.8 200.4,632.5 200.7,632.3 201.1,636.7 201.4,636.8 201.8,636.8 202.2,628.5 202.5,632.7 202.9,636.8 203.3,636.8 203.6,631 204,636.8 204.4,636.8 204.7,636.8 205.1,629.5 205.4,632.4 205.8,630.8 206.2,631.5 206.5,636.8 206.9,629.4 207.3,636.8 207.6,631.5 208,636.8 208.4,631 208.7,636.8 209.1,630 209.4,632.6 209.8,631 210.2,631.3 210.5,632.1 210.9,636.8 211.3,636.8 211.6,636.7 212,630.5 212.4,636.7 212.7,636.8 213.1,636.8 213.4,636.8 213.8,632.2 214.2,632.7 214.5,631.4 214.9,632.5 215.3,632.3 215.6,636.8 216,630.6 216.4,636.8 216.7,629.6 217.1,636.8 217.4,636.7 217.8,631.5 218.2,631.8 218.5,636.8 218.9,632.3 219.3,630.4 219.6,631.4 220,631.2 220.4,636.8 220.7,636.8 221.1,636.8 221.4,629 221.8,636.8 222.2,636.8 222.5,630.9 222.9,631.2 223.3,636.8 223.6,636.8 224,630.8 224.4,632.3 224.7,632.4 225.1,636.8 225.4,632.7 225.8,636.8 226.2,636.8 226.5,631.2 226.9,636.8 227.3,636.8 227.6,636.8 228,636.7 228.4,636.8 228.7,636.8 229.1,636.7 229.4,631.8 229.8,630.8 230.2,636.8 230.5,636.8 230.9,636.8 231.3,630.1 231.6,636.8 232,630.7 232.3,627.5 232.7,631.1 233.1,636.6 233.4,636.7 233.8,636.7 234.2,630.3 234.5,632.6 234.9,630.5 235.3,632.2 235.6,632.3 236,629.7 236.3,631.1 236.7,636.8 237.1,636.6 237.4,636.6 237.8,632.5 238.2,632.3 238.5,632.7 238.9,636.8 239.3,631.7 239.6,636.8 240,632.6 240.3,636.8 240.7,631.4 241.1,636.6 241.4,632.6 241.8,636.8 242.2,632.4 242.5,631.5 242.9,632.5 243.3,630.1 243.6,636.8 244,632.6 244.3,636.8 244.7,636.5 245.1,630.4 245.4,631.3 245.8,630.3 246.2,636.8 246.5,631.7 246.9,630.3 247.3,629.6 247.6,631.6 248,636.6 248.3,631 248.7,629 249.1,632 249.4,636.8 249.8,632.4 250.2,632.3 250.5,631.9 250.9,630.8 251.3,628.6 251.6,636.6 252,636.8 252.3,631.6 252.7,636.8 253.1,630.7 253.4,632.2 253.8,636.8 254.2,630.4 254.5,636.4 254.9,631.7 255.3,631.4 255.6,636.8 256,636.8 256.3,631.6 256.7,631.3 257.1,636.4 257.4,632.3 257.8,636.8 258.2,630.5 258.5,636.7 258.9,636.8 259.3,636.8 259.6,636.4 260,630.3 260.3,631.4 260.7,632.3 261.1,636.4 261.4,628 261.8,630.7 262.2,636.8 262.5,629.3 262.9,636.8 263.3,631.3 263.6,636.5 264,636.8 264.3,627.7 264.7,636.5 265.1,636.8 265.4,636.8 265.8,630.8 266.2,629.2 266.5,629.2 266.9,629.6 267.3,632 267.6,636.8 268,636.4 268.3,629 268.7,630.8 269.1,631.9 269.4,631.2 269.8,630.3 270.2,631.6 270.5,636.8 270.9,631.2 271.3,636.4 271.6,630.6 272,631.5 272.3,636.8 272.7,631.2 273.1,630.8 273.4,629.8 273.8,636.2 274.2,636.6 274.5,631.5 274.9,628.8 275.3,636.5 275.6,636.8 276,630 276.3,631.6 276.7,630.8 277.1,636.8 277.4,636.7 277.8,631.1 278.2,636.8 278.5,630 278.9,630.3 279.3,632 279.6,628.3 280,630.6 280.3,631.1 280.7,631 281.1,631 281.4,636.8 281.8,631.8 282.2,636.8 282.5,626.8 282.9,630.9 283.3,631 283.6,636.8 284,629.1 284.3,636.7 284.7,636.8 285.1,630.5 285.4,630.8 285.8,636.5 286.2,631 286.5,630 286.9,631.4 287.2,629.7 287.6,636.2 288,627 288.3,630.6 288.7,636.8 289.1,636.7 289.4,628.9 289.8,636.8 290.2,627.8 290.5,636.6 290.9,636.4 291.2,631.6 291.6,636.4 292,636.7 292.3,631.2 292.7,636.8 293.1,629.5 293.4,629.6 293.8,630.8 294.2,630.2 294.5,636.6 294.9,636.8 295.2,636.8 295.6,630.1 296,630 296.3,629.7 296.7,628.5 297.1,636.8 297.4,636.8 297.8,636.8 298.2,629.7 298.5,627.5 298.9,636.3 299.2,636.8 299.6,636.8 300,626.5 300.3,631 300.7,629.3 301.1,629.3 301.4,630.2 301.8,629.4 302.2,636.8 302.5,630.5 302.9,631.3 303.2,636.8 303.6,636.8 304,636.8 304.3,629.8 304.7,628.6 305.1,630.4 305.4,636.6 305.8,636.7 306.2,627.7 306.5,629.7 306.9,628.6 307.2,635.8 307.6,636.8 308,636.8 308.3,636.8 308.7,625.8 309.1,636.6 309.4,627.7 309.8,636.4 310.2,627.8 310.5,627.1 310.9,636.8 311.2,630.9 311.6,636.8 312,630.3 312.3,636.2 312.7,636.8 313.1,636.7 313.4,629.4 313.8,628.5 314.2,627.6 314.5,636.8 314.9,636.7 315.2,636.8 315.6,630.2 316,628.5 316.3,636.8 316.7,629.2 317.1,635.6 317.4,628 317.8,629.3 318.2,635.6 318.5,636.8 318.9,628.1 319.2,636.8 319.6,635.8 320,629 320.3,630.8 320.7,636.8 321.1,636.8 321.4,636.6 321.8,626.7 322.2,630.2 322.5,629.9 322.9,636.8 323.2,628 323.6,636.7 324,636.8 324.3,629.9 324.7,628.2 325.1,635.4 325.4,635.2 325.8,636.8 326.2,629.8 326.5,636.5 326.9,636.8 327.2,628.7 327.6,636.8 328,627.6 328.3,636.5 328.7,628.8 329.1,629 329.4,635.5 329.8,626.9 330.2,636.5 330.5,636.8 330.9,635.1 331.2,629.8 331.6,629.2 332,628.2 332.3,630.2 332.7,628.8 333.1,626.1 333.4,635.2 333.8,625.5 334.2,627.1 334.5,628.1 334.9,629.9 335.2,626.9 335.6,628.2 336,636.4 336.3,635.1 336.7,635.5 337.1,627.9 337.4,636.8 337.8,628.1 338.2,626.4 338.5,629 338.9,634.4 339.2,636.8 339.6,627.3 340,635.9 340.3,626.5 340.7,626.5 341.1,635.1 341.4,628.3 341.8,624.8 342.1,629.1 342.5,636.4 342.9,636.3 343.2,636.8 343.6,627.9 344,625.8 344.3,636.8 344.7,627.9 345.1,627.1 345.4,635.5 345.8,628.9 346.1,636.6 346.5,636.4 346.9,629 347.2,628.9 347.6,626.5 348,635.5 348.3,628.1 348.7,626 349.1,625.2 349.4,635.3 349.8,626 350.1,627 350.5,635.6 350.9,627.8 351.2,634.9 351.6,635.5 352,625.7 352.3,627.3 352.7,636.6 353.1,634.1 353.4,625.5 353.8,626.5 354.1,625.6 354.5,636.8 354.9,628.3 355.2,624.2 355.6,626.2 356,636.8 356.3,628.4 356.7,627.8 357.1,636.8 357.4,628.8 357.8,627.5 358.1,636.8 358.5,626.9 358.9,626.8 359.2,633.9 359.6,635.6 360,627.8 360.3,627.1 360.7,635.1 361.1,628 361.4,625.7 361.8,625.7 362.1,627.1 362.5,628.1 362.9,622.9 363.2,625.7 363.6,636.8 364,624.7 364.3,623.6 364.7,623.9 365.1,625.6 365.4,623.3 365.8,635.1 366.1,625.7 366.5,636.8 366.9,636.6 367.2,636.4 367.6,636.6 368,627.9 368.3,635.9 368.7,624.7 369.1,626.8 369.4,634.1 369.8,625.9 370.1,635.8 370.5,636.7 370.9,636.5 371.2,625.1 371.6,636.8 372,625.6 372.3,624.8 372.7,636.7 373.1,633 373.4,620.9 373.8,625.5 374.1,636.6 374.5,626.5 374.9,625.2 375.2,625.5 375.6,636.8 376,636.8 376.3,626.2 376.7,625 377.1,636.7 377.4,626.2 377.8,624.8 378.1,626 378.5,626.3 378.9,617.9 379.2,626.4 379.6,624.6 380,636.6 380.3,625.5 380.7,625 381.1,636.8 381.4,622.7 381.8,634.9 382.1,620.6 382.5,636.4 382.9,623.2 383.2,636.7 383.6,636.8 384,636.8 384.3,624.7 384.7,636.8 385.1,633.7 385.4,636.8 385.8,636.8 386.1,625.4 386.5,635.9 386.9,617.7 387.2,625.3 387.6,620.7 388,620.6 388.3,619.9 388.7,632.1 389.1,622.9 389.4,624.1 389.8,622.2 390.1,625.2 390.5,623.6 390.9,622.1 391.2,623.4 391.6,624.1 392,618.4 392.3,625.7 392.7,633.8 393,636.7 393.4,620.2 393.8,625.6 394.1,636.8 394.5,625 394.9,623.3 395.2,636.7 395.6,621.4 396,621.5 396.3,624.5 396.7,634.7 397,625 397.4,635 397.8,636.5 398.1,636.6 398.5,636.8 398.9,636.8 399.2,633.2 399.6,617.3 400,624.4 400.3,636.6 400.7,619 401,623.5 401.4,611.2 401.8,630 402.1,636.2 402.5,631.6 402.9,619.2 403.2,622 403.6,624.3 404,635.5 404.3,619.4 404.7,624 405,631.4 405.4,636.2 405.8,636.5 406.1,622.4 406.5,615.3 406.9,615.1 407.2,623.3 407.6,623.3 408,622 408.3,633.2 408.7,624.3 409,617.7 409.4,633.5 409.8,633.5 410.1,633.5 410.5,635.8 410.9,621.4 411.2,620 411.6,617.9 412,622.1 412.3,629.2 412.7,635.3 413,636.8 413.4,622.5 413.8,618.7 414.1,636.1 414.5,636.6 414.9,620.8 415.2,623.3 415.6,636.8 416,621.9 416.3,623 416.7,615.8 417,623 417.4,633.9 417.8,630.4 418.1,631.6 418.5,634.3 418.9,618.1 419.2,636.8 419.6,629.2 420,635.9 420.3,636.1 420.7,618.1 421,613.5 421.4,615.3 421.8,620.7 422.1,630.6 422.5,622 422.9,636.8 423.2,629 423.6,621.9 424,620.2 424.3,620 424.7,614.4 425,619.3 425.4,617.8 425.8,622.1 426.1,635.4 426.5,636.8 426.9,610.3 427.2,631.1 427.6,612.2 428,632.6 428.3,636.8 428.7,629.5 429,620.3 429.4,612 429.8,633.8 430.1,628.4 430.5,619.4 430.9,636.1 431.2,636.7 431.6,630 432,619.1 432.3,636.7 432.7,617 433,619.9 433.4,618.6 433.8,636.8 434.1,636.4 434.5,620.8 434.9,620.6 435.2,628.4 435.6,620.9 436,633.7 436.3,636.5 436.7,615 437,636.8 437.4,611.7 437.8,636.8 438.1,636.5 438.5,636.8 438.9,617.3 439.2,636.8 439.6,615.8 440,616.8 440.3,634.4 440.7,634.3 441,607.8 441.4,636.2 441.8,619.3 442.1,615 442.5,618.4 442.9,636.8 443.2,628 443.6,613.7 444,620.1 444.3,636.8 444.7,613.5 445,617.2 445.4,636.2 445.8,636.7 446.1,635.2 446.5,617.3 446.9,617.8 447.2,636.8 447.6,619.4 447.9,616.4 448.3,616.1 448.7,636.2 449,636.6 449.4,619.6 449.8,614.7 450.1,609 450.5,616.8 450.9,615.1 451.2,618.7 451.6,612 451.9,605.3 452.3,631.7 452.7,636.8 453,636.8 453.4,635.6 453.8,604.9 454.1,635.6 454.5,611.1 454.9,629.7 455.2,636.5 455.6,609.8 455.9,618 456.3,617.2 456.7,604.9 457,633.8 457.4,630.7 457.8,614.4 458.1,613.5 458.5,612.5 458.9,615 459.2,607.1 459.6,636.8 459.9,636.7 460.3,636.8 460.7,617.6 461,630.6 461.4,615.3 461.8,624.8 462.1,613.9 462.5,635.5 462.9,636.8 463.2,636.8 463.6,632.4 463.9,635.5 464.3,617.7 464.7,632.8 465,612.7 465.4,633.6 465.8,636.8 466.1,608.5 466.5,630.6 466.9,617 467.2,617.6 467.6,635.9 467.9,617.9 468.3,636.8 468.7,614.5 469,635.5 469.4,613 469.8,628.9 470.1,636.8 470.5,636.8 470.9,636.5 471.2,632 471.6,614.8 471.9,632.1 472.3,635.2 472.7,629 473,636.6 473.4,609.9 473.8,609.2 474.1,615.6 474.5,632 474.9,613.6 475.2,635.8 475.6,614.4 475.9,613.5 476.3,609 476.7,626.1 477,610.9 477.4,636.7 477.8,609.7 478.1,634 478.5,610.6 478.9,617 479.2,636.8 479.6,612.7 479.9,629.3 480.3,607.1 480.7,636.7 481,609.6 481.4,616.4 481.8,614.1 482.1,635.6 482.5,636.3 482.9,607.5 483.2,608.9 483.6,610.4 483.9,636.5 484.3,606.8 484.7,629 485,613.9 485.4,614.3 485.8,614.2 486.1,616.6 486.5,608.3 486.9,630 487.2,636.8 487.6,610.3 487.9,611.9 488.3,605 488.7,598.8 489,636.8 489.4,613.9 489.8,636.7 490.1,611.5 490.5,633.6 490.9,636.5 491.2,604.1 491.6,636.8 491.9,634 492.3,607.9 492.7,636.8 493,635.5 493.4,634.4 493.8,634.4 494.1,613.5 494.5,613.8 494.9,636.6 495.2,629.1 495.6,614.1 495.9,607.7 496.3,615.5 496.7,604.6 497,634.4 497.4,636.5 497.8,612.7 498.1,635.4 498.5,614 498.8,609 499.2,613.6 499.6,608.5 499.9,607.2 500.3,636.8 500.7,609 501,636.8 501.4,612.4 501.8,608.4 502.1,605.9 502.5,614.8 502.8,636.2 503.2,628.1 503.6,609.5 503.9,636.8 504.3,624.5 504.7,635.8 505,632.2 505.4,625.4 505.8,636.8 506.1,636.5 506.5,627.3 506.8,635.7 507.2,604.5 507.6,629.2 507.9,621.5 508.3,612.5 508.7,610.2 509,614.3 509.4,602.8 509.8,636.8 510.1,636.5 510.5,636.8 510.8,594.8 511.2,602.2 511.6,626.2 511.9,636.7 512.3,609 512.7,613.5 513,613.6 513.4,614.3 513.8,626 514.1,636.8 514.5,611 514.8,636.8 515.2,597.4 515.6,636.8 515.9,630 516.3,609.3 516.7,625 517,636.5 517.4,608.3 517.8,605.4 518.1,636.7 518.5,612 518.8,595.6 519.2,609.5 519.6,630 519.9,611.2 520.3,636.8 520.7,636.6 521,604 521.4,631.6 521.8,611.9 522.1,611.8 522.5,612 522.8,606 523.2,636.8 523.6,636.5 523.9,613.3 524.3,636.8 524.7,630.1 525,610.9 525.4,605.9 525.8,635.2 526.1,607 526.5,592.4 526.8,634.4 527.2,636.3 527.6,604.3 527.9,609.8 528.3,636.7 528.7,610.5 529,607 529.4,632.5 529.8,613.9 530.1,610.6 530.5,609.3 530.8,635.5 531.2,614.3 531.6,636.4 531.9,636.7 532.3,636.7 532.7,614.1 533,614.3 533.4,633 533.8,607.6 534.1,636 534.5,601.7 534.8,624.8 535.2,636.1 535.6,636.8 535.9,630.9 536.3,636.8 536.7,636.4 537,612.7 537.4,611.7 537.8,636.8 538.1,633.9 538.5,605.9 538.8,634.3 539.2,603.2 539.6,612.4 539.9,609.6 540.3,606.4 540.7,623.4 541,601.2 541.4,611.3 541.8,636.8 542.1,612.5 542.5,605.4 542.8,611.6 543.2,612 543.6,624.4 543.9,636.8 544.3,611.1 544.7,634.7 545,606.5 545.4,613.4 545.8,609.3 546.1,599.6 546.5,606.9 546.8,609.7 547.2,597.2 547.6,614.2 547.9,602.6 548.3,628 548.7,602.8 549,636.7 549.4,636.8 549.8,608.3 550.1,606.1 550.5,630.1 550.8,604.9 551.2,635.9 551.6,608.1 551.9,610.5 552.3,614.1 552.7,623.9 553,636.3 553.4,636.6 553.7,607.6 554.1,612.2 554.5,595.9 554.8,597 555.2,604.9 555.6,609.7 555.9,603.6 556.3,604.8 556.7,610.4 557,636.8 557.4,605.8 557.7,612.2 558.1,634.8 558.5,611.5 558.8,611.5 559.2,607.4 559.6,635.9 559.9,611.2 560.3,636.8 560.7,636.6 561,613.2 561.4,633.1 561.7,636.5 562.1,608.3 562.5,605.9 562.8,604 563.2,621.3 563.6,605.4 563.9,613.4 564.3,607.4 564.7,636.8 565,636.5 565.4,636.8 565.7,634.8 566.1,610.5 566.5,603.2 566.8,614.6 567.2,614.7 567.6,625.9 567.9,612.7 568.3,604.4 568.7,594.3 569,609.7 569.4,612.9 569.7,636.6 570.1,610.8 570.5,603.2 570.8,603.5 571.2,606.4 571.6,636.2 571.9,636.8 572.3,636.7 572.7,610.1 573,607.5 573.4,636.8 573.7,632.7 574.1,636.8 574.5,609.9 574.8,612.6 575.2,604.4 575.6,614.6 575.9,630.7 576.3,614.1 576.7,609.1 577,609.4 577.4,634.7 577.7,634.6 578.1,636.8 578.5,608.1 578.8,604.2 579.2,630.3 579.6,614.6 579.9,636.8 580.3,631.8 580.7,602 581,631.6 581.4,636.8 581.7,606.7 582.1,636.4 582.5,633.3 582.8,606.2 583.2,630.2 583.6,611.9 583.9,597.9 584.3,632.4 584.7,636.8 585,604 585.4,613.4 585.7,633.8 586.1,608.8 586.5,626.2 586.8,613.7 587.2,636.4 587.6,636.5 587.9,636.7 588.3,635.6 588.7,614.1 589,630.9 589.4,623.5 589.7,606.5 590.1,614.2 590.5,607.2 590.8,615.5 591.2,636.8 591.6,604.4 591.9,631.3 592.3,615.6 592.7,614.4 593,614.6 593.4,636.8 593.7,614.4 594.1,636.7 594.5,609.6 594.8,614.3 595.2,603.8 595.6,605.4 595.9,632.4 596.3,631.7 596.7,609.1 597,625.5 597.4,629.8 597.7,636.4 598.1,636.7 598.5,610.5 598.8,613.4 599.2,614.6 599.6,616.2 599.9,602.2 600.3,626.3 600.7,606.1 601,636.8 601.4,605.8 601.7,616.1 602.1,606.6 602.5,632.9 602.8,623.7 603.2,612 603.6,611.3 603.9,612 604.3,630 604.7,635.9 605,607.4 605.4,635.9 605.7,612.6 606.1,604.3 606.5,613.7 606.8,608.5 607.2,616.5 607.6,636.8 607.9,611.2 608.3,636.8 608.6,612.1 609,635.5 609.4,607.9 609.7,610 610.1,636.8 610.5,624.4 610.8,636.4 611.2,631.7 611.6,613.4 611.9,632.9 612.3,608.5 612.6,636.8 613,628.9 613.4,636.8 613.7,636 614.1,636.8 614.5,617 614.8,606.7 615.2,609.6 615.6,632 615.9,635.1 616.3,630.1 616.6,636.5 617,634.1 617.4,609.4 617.7,616.4 618.1,636.8 618.5,629.1 618.8,611.9 619.2,629.6 619.6,617.3 619.9,610.7 620.3,612.6 620.6,631.9 621,636.8 621.4,610.8 621.7,629.2 622.1,608.3 622.5,630 622.8,613 623.2,636.8 623.6,614.7 623.9,609 624.3,609.5 624.6,636.8 625,614.7 625.4,604.9 625.7,617 626.1,615 626.5,636.5 626.8,610.4 627.2,636.7 627.6,609 627.9,614.2 628.3,636.8 628.6,603.3 629,635.8 629.4,636.8 629.7,636.8 630.1,612.4 630.5,636.8 630.8,629.7 631.2,618.1 631.6,634.6 631.9,613.2 632.3,611.5 632.6,614.6 633,617.9 633.4,618.4 633.7,617.3 634.1,618.5 634.5,628.6 634.8,599.3 635.2,615.1 635.6,609.7 635.9,636.6 636.3,613.6 636.6,636.8 637,634.2 637.4,615.1 637.7,610.9 638.1,636.8 638.5,633.6 638.8,616.9 639.2,615.5 639.6,611.6 639.9,615.6 640.3,634.1 640.6,636.8 641,613 641.4,636.6 641.7,617.3 642.1,636.2 642.5,611.9 642.8,615.1 643.2,636.8 643.6,633.4 643.9,626.6 644.3,636.2 644.6,616.2 645,633.5 645.4,635.8 645.7,631.8 646.1,611 646.5,630.1 646.8,636.8 647.2,634.7 647.6,612 647.9,616.7 648.3,616.4 648.6,616.5 649,636.7 649.4,616.6 649.7,609 650.1,613.5 650.5,627.8 650.8,617.9 651.2,636.8 651.6,608.2 651.9,617.4 652.3,619.2 652.6,615.9 653,627 653.4,619 653.7,633.3 654.1,633.9 654.5,633.6 654.8,619 655.2,613.9 655.6,620.2 655.9,620.1 656.3,636.6 656.6,636.8 657,636.1 657.4,636.8 657.7,636.6 658.1,619.9 658.5,636.8 658.8,620.5 659.2,635 659.5,617.9 659.9,617.6 660.3,620.4 660.6,618.8 661,630.3 661.4,614.6 661.7,619.4 662.1,610.8 662.5,636.8 662.8,636.8 663.2,616.7 663.5,636.4 663.9,613.8 664.3,620.8 664.6,635.7 665,620.8 665.4,636.8 665.7,636.8 666.1,618 666.5,609.1 666.8,621.2 667.2,636.8 667.5,636.3 667.9,611.3 668.3,636.7 668.6,636.3 669,620.6 669.4,611.7 669.7,636.4 670.1,620.6 670.5,614.3 670.8,618.6 671.2,613.9 671.5,636.8 671.9,635.8 672.3,619.9 672.6,615 673,629.8 673.4,619.9 673.7,621.1 674.1,636.4 674.5,616.7 674.8,631.4 675.2,636.5 675.5,621.7 675.9,619.9 676.3,608.9 676.6,628.5 677,636.8 677.4,621 677.7,636.8 678.1,620.2 678.5,630.3 678.8,614.3 679.2,618.4 679.5,617.1 679.9,619.8 680.3,631 680.6,635.9 681,631.9 681.4,621.5 681.7,622 682.1,621.3 682.5,633.5 682.8,618.7 683.2,634.8 683.5,620.3 683.9,609.2 684.3,622.6 684.6,610 685,636.3 685.4,636.8 685.7,619.8 686.1,631.9 686.5,616.4 686.8,621.3 687.2,622.5 687.5,618.4 687.9,622.7 688.3,620 688.6,635.3 689,617.2 689.4,636.8 689.7,622.7 690.1,633.7 690.5,632 690.8,636.6 691.2,636.8 691.5,632.5 691.9,618.2 692.3,635.1 692.6,636.8 693,622.5 693.4,619.6 693.7,622.8 694.1,636.7 694.5,619.3 694.8,623.2 695.2,635.9 695.5,636.7 695.9,621.6 696.3,616.9 696.6,618.2 697,617.2 697.4,618.9 697.7,636.8 698.1,617.6 698.5,621.8 698.8,629.7 699.2,621.1 699.5,620.9 699.9,636.8 700.3,636 700.6,636.5 701,622.6 701.4,618.9 701.7,636.6 702.1,618 702.5,621.6 702.8,632.1 703.2,636 703.5,636.7 703.9,636.8 704.3,622.9 704.6,624 705,636.4 705.4,634.8 705.7,621.9 706.1,634.1 706.5,636.7 706.8,623.4 707.2,631.7 707.5,620.6 707.9,630.8 708.3,620.4 708.6,631.5 709,619 709.4,634.6 709.7,621.5 710.1,616 710.5,636.7 710.8,622.8 711.2,636.1 711.5,636.4 711.9,636.8 712.3,630 712.6,624 713,634.9 713.4,631.7 713.7,630.6 714.1,636.8 714.4,620.7 714.8,622.3 715.2,635.6 715.5,622.9 715.9,636.8 716.3,619.4 716.6,623.8 717,623.5 717.4,631.3 717.7,635.2 718.1,636.8 718.4,631.8 718.8,636.8 719.2,625.4 719.5,615.7 719.9,631.8 720.3,622.4 720.6,621.6 721,623.7 721.4,636.8 721.7,636.6 722.1,625 722.4,636.4 722.8,636.8 723.2,636.6 723.5,636.6 723.9,632.1 724.3,636.7 724.6,621.5 725,636.5 725.4,625.1 725.7,623.9 726.1,623.4 726.4,635.8 726.8,622.9 727.2,636.6 727.5,633.6 727.9,626.1 728.3,620.2 728.6,636.6 729,624.1 729.4,636.8 729.7,622.6 730.1,636.6 730.4,624.2 730.8,636.1 731.2,624.5 731.5,624.3 731.9,619.6 732.3,636.4 732.6,623.4 733,636.8 733.4,622.6 733.7,636.8 734.1,636.5 734.4,636.8 734.8,625.1 735.2,624.9 735.5,633.5 735.9,633.7 736.3,632.6 736.6,636.8 737,623 737.4,626.1 737.7,635.5 738.1,636.8 738.4,623.7 738.8,625.8 739.2,634.5 739.5,625.7 739.9,623.7 740.3,624.2 740.6,636.4 741,624.8 741.4,636.8 741.7,623.7 742.1,636.8 742.4,624.9 742.8,623.9 743.2,619.8 743.5,635.8 743.9,636.8 744.3,634.1 744.6,634.6 745,632.9 745.4,627 745.7,635.4 746.1,626.9 746.4,635.6 746.8,633.6 747.2,626.6 747.5,627 747.9,625.7 748.3,636 748.6,636.7 749,627.1 749.4,636.8 749.7,625 750.1,623.1 750.4,636.3 750.8,635.6 751.2,625.8 751.5,626.1 751.9,627.6 752.3,636.8 752.6,634.9 753,636.8 753.4,625.2 753.7,636 754.1,627.5 754.4,625.1 754.8,633.7 755.2,621.9 755.5,636.3 755.9,626.4 756.3,632.8 756.6,635.8 757,636.6 757.4,636.8 757.7,636.1 758.1,627.2 758.4,627.3 758.8,628 759.2,634.5 759.5,619.8 759.9,636.7 760.3,624.8 760.6,636.8 761,621 761.4,628.3 761.7,634.6 762.1,636.8 762.4,627.7 762.8,635.3 763.2,636.7 763.5,625.9 763.9,636.4 764.3,628.4 764.6,636.8 765,636.8 765.3,624.2 765.7,634.5 766.1,628.4 766.4,635.7 766.8,622.9 767.2,633.5 767.5,635.2 767.9,624.7 768.3,623.5 768.6,628.2 769,628 769.3,628.5 769.7,627.9 770.1,635 770.4,635.1 770.8,623.1 771.2,636.8 771.5,636.1 771.9,625.5 772.3,627.8 772.6,626.1 773,636.8 773.3,627.7 773.7,628.2 774.1,627.2 774.4,626.6 774.8,636.1 775.2,628.7 775.5,622.3 775.9,626.7 776.3,626.7 776.6,634.7 777,626.9 777.3,636.5 777.7,636.3 778.1,626.5 778.4,628.3 778.8,626.2 779.2,625.6 779.5,625.2 779.9,627.3 780.3,636.5 780.6,625.3 781,635.8 781.3,636.6 781.7,634.5 782.1,634.8 782.4,636.8 782.8,636.8 783.2,636.1 783.5,636.8 783.9,635.4 784.3,625.2 784.6,634.3 785,636.8 785.3,636.1 785.7,625.5 786.1,636.2 786.4,629.4 786.8,628.8 787.2,636.8 787.5,635.6 787.9,627.5 788.3,636.5 788.6,626 789,635.3 789.3,629.2 789.7,636.8 790.1,629.4 790.4,627.8 790.8,636.8 791.2,636.8 791.5,636.8 791.9,636.8 792.3,636.5 792.6,636.7 793,628 793.3,625.9 793.7,636.8 794.1,629 794.4,628.2 794.8,629.2 795.2,625.5 795.5,626 795.9,626.9 796.3,636.7 796.6,628.5 797,625.7 797.3,636.4 797.7,627.6 798.1,629.3 798.4,627.2 798.8,635.1 799.2,625.2 799.5,636.8 799.9,630 800.3,628.2 800.6,636.7 801,636.7 801.3,635.6 801.7,626.9 802.1,636.7 802.4,625.7 802.8,636.8 803.2,636.7 803.5,624.4 803.9,636.8 804.3,629.2 804.6,636.5 805,628.2 805.3,626.2 805.7,636.8 806.1,636.8 806.4,636.8 806.8,635.8 807.2,636.7 807.5,636.7 807.9,636 808.3,629.2 808.6,636.8 809,636.8 809.3,635.3 809.7,627.5 810.1,630.2 810.4,630.4 810.8,636.1 811.2,628.7 811.5,626.6 811.9,627.2 812.3,636.8 812.6,635.1 813,636.8 813.3,628.6 813.7,635.9 814.1,629.3 814.4,628.8 814.8,629.2 815.2,636.7 815.5,629.9 815.9,635.1 816.3,630.2 816.6,636.7 817,628.1 817.3,628.7 817.7,628.7 818.1,629.8 818.4,628.4 818.8,636.7 819.2,636.8 819.5,627.7 819.9,626.1 820.2,635.9 820.6,636.1 821,636.8 821.3,629.1 821.7,636.8 822.1,636.8 822.4,636.8 822.8,630 823.2,627.7 823.5,624.2 823.9,630.6 824.2,624.9 824.6,630 825,636.8 825.3,630.9 825.7,636.8 826.1,635.5 826.4,628.4 826.8,630.5 827.2,630.7 827.5,636 827.9,636.6 828.2,631.1 828.6,631.2 829,630.5 829.3,628.8 829.7,631.1 830.1,628.8 830.4,628.7 830.8,630.2 831.2,630.6 831.5,629.3 831.9,628.2 832.2,630.1 832.6,630.3 833,636.2 833.3,629.3 833.7,636.5 834.1,628.4 834.4,636.8 834.8,629.6 835.2,630.7 835.5,636.6 835.9,636.8 836.2,628.3 836.6,631.1 837,636.6 837.3,636.8 837.7,631 838.1,625.9 838.4,636.7 838.8,631.4 839.2,630.6 839.5,636.8 839.9,636.8 840.2,628.1 840.6,627.2 841,627.2 841.3,636.4 841.7,627.8 842.1,631 842.4,636.3 842.8,630.2 843.2,636.8 843.5,628 843.9,636.8 844.2,630.5 844.6,636.8 845,630.1 845.3,636.5 845.7,636.8 846.1,628.5 846.4,629.7 846.8,628.8 847.2,629.7 847.5,630.1 847.9,636.6 848.2,626.1 848.6,629.4 849,629.7 849.3,636.8 849.7,627.8 850.1,628.4 850.4,636.8 850.8,636.2 851.2,636.8 851.5,631.2 851.9,630.9 852.2,636.8 852.6,631.1 853,629.9 853.3,631.2 853.7,636.8 854.1,629.7 854.4,635.8 854.8,630 855.2,636.3 855.5,629.4 855.9,630.8 856.2,629.5 856.6,629 857,636.8 857.3,636.5 857.7,636.7 858.1,628.7 858.4,627 858.8,636.1 859.2,631.7 859.5,630.9 859.9,636.5 860.2,630.4 860.6,636.8 861,630.7 861.3,636 861.7,629.8 862.1,636.2 862.4,631.8 862.8,636 863.2,631.6 863.5,636.4 863.9,636.2 864.2,625.4 864.6,631.3 865,631 865.3,636.8 865.7,629.9 866.1,636.1 866.4,636.6 866.8,631.8 867.2,630.5 867.5,636.8 867.9,636.4 868.2,632 868.6,636.8 869,636.6 869.3,636 869.7,636.6 870.1,636.1 870.4,630.3 870.8,636.8 871.2,636.5 871.5,636.8 871.9,632 872.2,636.8 872.6,636.8 873,630.8 873.3,631.3 873.7,636.6 874.1,631.9 874.4,636.6 874.8,631.9 875.1,636.8 875.5,636.8 875.9,631.7 876.2,627.9 876.6,629.9 877,630.9 877.3,631.7 877.7,636.8 878.1,636.7 878.4,636.8 878.8,631.2 879.1,629.8 879.5,636.5 879.9,636.8 880.2,636.8 880.6,636.8 881,629.6 881.3,636.4 881.7,630.5 882.1,636.3 882.4,636.8 882.8,631.2 883.1,630.1 883.5,629.7 883.9,630.2 884.2,636.4 884.6,631.8 885,630.5 885.3,636.3 885.7,636.7 886.1,630.2 886.4,630.5 886.8,636.8 887.1,636.8 887.5,636.6 887.9,630.1 888.2,636.8 888.6,636.4 889,630.5 889.3,628.9 889.7,636.8 890.1,636.8 890.4,631.4 890.8,631 891.1,629.7 891.5,636.8 891.9,636.8 892.2,630.9 892.6,636.5 893,636.8 893.3,631.8 893.7,631 894.1,629.7 894.4,636.8 894.8,636.6 895.1,636.5 895.5,631.4 895.9,636.8 896.2,630.9 896.6,630 897,632.4 897.3,630.8 897.7,631.6 898.1,630.4 898.4,636.8 898.8,636.8 899.1,631.6 899.5,629.1 899.9,632 900.2,636.8 900.6,628.7 901,632.5 901.3,636.8 901.7,636.8 902.1,636.8 902.4,631.5 902.8,630.8 903.1,636.7 903.5,636.8 903.9,629.9 904.2,630.3 904.6,632.5 905,631.3 905.3,629.9 905.7,629.3 906.1,636.7 906.4,629.7 906.8,629.9 907.1,632.3 907.5,636.8 907.9,636.8 908.2,630 908.6,636.5 909,632.2 909.3,631.6 909.7,636.5 910.1,630.8 910.4,632.3 910.8,629.7 911.1,631.9 911.5,636.7 911.9,636.6 912.2,636.7 912.6,636.8 913,632 913.3,636.7 913.7,636.8 914.1,636.7 914.4,636.8 914.8,629.4 915.1,636.6 915.5,631.3 915.9,632.3 916.2,630.3 916.6,636.8 917,636.8 917.3,631.3 917.7,631.2 918.1,636.8 918.4,636.8 918.8,629.1 919.1,632.1 919.5,631.8 919.9,629.7 920.2,636.7 920.6,632.2 921,629 921.3,636.7 921.7,636.8 922.1,636.8 922.4,636.8 922.8,630.3 923.1,636.5 923.5,636.8 923.9,632.6 924.2,636.6 924.6,636.6 925,636.8 925.3,636.8 925.7,631.7 926,632.5 926.4,636.7 926.8,632.7 927.1,636.8 927.5,636.8 927.9,636.7 928.2,636.8 928.6,631.3 929,636.8 929.3,636.8 929.7,632.4 930,636.8 930.4,631.6 930.8,631.4 931.1,632.6 931.5,636.8 931.9,636.7 932.2,632.7 932.6,636.8 933,636.8 933.3,632.6 933.7,630.9 934,636.8 934.4,632.5 934.8,631.1 935.1,631.7 935.5,636.8 935.9,632.5 936.2,632.5 936.6,636.6 937,636.8 937.3,636.7 937.7,631.1 938,632.5 938.4,631 938.8,636.8 939.1,632.4 939.5,636.8 939.9,627.9 940.2,636.8 940.6,630.8 941,632.1 941.3,631.6 941.7,636.6 942,632 942.4,636.8 942.8,636.8 943.1,636.8 943.5,629.9 943.9,632.3 944.2,636.8 944.6,631.7 945,628 945.3,636.8 945.7,636.7 946,630.2 946.4,632 946.8,632.8 947.1,631.5 947.5,632.7 947.9,632.2 948.2,636.7 948.6,632.6 949,631.8 949.3,636.7 949.7,636.8 950,636.8 950.4,636.8 950.8,636.8 951.1,636.8 951.5,630.7"/>
<line x1="952.5" y1="3.7" x2="952.5" y2="637.3" stroke="#000" stroke-width="4.5" stroke-linecap="round"/>
<line x1="114.6" y1="40.5" x2="198.7" y2="40.5" stroke="#000" stroke-width="2.7" stroke-linecap="round"/>
<line x1="114.6" y1="100.6" x2="198.7" y2="100.6" stroke="#ff0000" stroke-width="2.7" stroke-linecap="round"/>
<text x="207.3" y="51.6" font-size="37">N<tspan x="234.8" y="67.0" font-size="21.5">2</tspan><tspan x="245.8" y="51.6" textLength="139" lengthAdjust="spacingAndGlyphs">/Ar~0.43</tspan></text>
<text x="207.3" y="111.8" font-size="37">N<tspan x="234.8" y="127.0" font-size="21.5">2</tspan><tspan x="245.8" y="111.8" textLength="138.5" lengthAdjust="spacingAndGlyphs">/Ar~0.67</tspan></text>
<text class="sans" x="4.8" y="29.1" font-size="34">(a)</text>
<text x="760.5" y="44.8" font-size="37.5" textLength="167.5" lengthAdjust="spacingAndGlyphs">AlN(0002)</text>
<text x="692.8" y="379.2" font-size="37" textLength="186.5" lengthAdjust="spacingAndGlyphs">7538 arcsec</text>
<g stroke="#222" stroke-width="1.4" fill="#000"><line x1="261.6" y1="396.6" x2="392" y2="396.6"/><path d="M400.2 396.6 L384 393 L384 400.2 Z" stroke="none"/><line x1="803" y1="398.7" x2="656" y2="398.7"/><path d="M648.4 398.7 L664.8 395 L664.8 402.4 Z" stroke="none"/></g>
<text x="100" y="678" font-size="35" text-anchor="middle">-15000</text><text x="241.9" y="678" font-size="35" text-anchor="middle">-10000</text><text x="383.9" y="678" font-size="35" text-anchor="middle">-5000</text><text x="526.7" y="678" font-size="35" text-anchor="middle">0</text><text x="668.6" y="678" font-size="35" text-anchor="middle">5000</text><text x="810.5" y="678" font-size="35" text-anchor="middle">10000</text><text x="952.5" y="678" font-size="35" text-anchor="middle">15000</text>
<text x="320.5" y="747.6" font-size="45.5" textLength="411.5" lengthAdjust="spacing">Omega scan(arcsec)</text>
<text transform="translate(35 493.6) rotate(-90)" font-size="46" textLength="313.5" lengthAdjust="spacing">Intensity (a.u.)</text>
<rect x="104.4" y="846.6" width="853.4" height="626.1" fill="none" stroke="#000" stroke-width="4.4" stroke-linejoin="round"/>
<g stroke="#000" stroke-width="4.4" stroke-linecap="round"><line x1="189.7" y1="1472.7" x2="189.7" y2="1460.8"/><line x1="275.1" y1="1472.7" x2="275.1" y2="1467.3"/><line x1="360.4" y1="1472.7" x2="360.4" y2="1460.8"/><line x1="445.8" y1="1472.7" x2="445.8" y2="1467.3"/><line x1="531.1" y1="1472.7" x2="531.1" y2="1460.8"/><line x1="616.4" y1="1472.7" x2="616.4" y2="1467.3"/><line x1="701.8" y1="1472.7" x2="701.8" y2="1460.8"/><line x1="787.1" y1="1472.7" x2="787.1" y2="1467.3"/><line x1="872.5" y1="1472.7" x2="872.5" y2="1460.8"/><line x1="104.4" y1="1347.5" x2="111" y2="1347.5"/><line x1="104.4" y1="1222.3" x2="116.4" y2="1222.3"/><line x1="104.4" y1="1097" x2="111" y2="1097"/><line x1="104.4" y1="971.8" x2="116.4" y2="971.8"/></g>
<path fill="none" stroke="#000" stroke-width="2.2" d="M455.6 1406.2L456.1 1404.6M458.2 1396.7L459.6 1389.7M461.5 1381.7L462.4 1378.7M464.4 1370.7L465.7 1365.4M467.4 1357.4L468.8 1350.9M470.4 1342.9L472 1334.8M473.3 1326.7L475.2 1313.6M476.4 1305.5L478.3 1291.6M479.6 1283.5L481.2 1274.9M482.5 1266.8L484.5 1250.5M485.6 1242.4L487.5 1230.3M488.5 1222.2L490.7 1201.8M491.7 1193.6L493.7 1180.2M494.7 1172.1L496.9 1150.6M497.9 1142.5L499.8 1129.1M500.9 1121L502.9 1104.3M504 1096.2L506 1082M507 1073.9L509.1 1056.3M510.3 1048.2L512 1038.5M513.3 1030.4L515.1 1018.8M516.7 1010.7L517.9 1005.3M520 997.4L520.7 994.9M525.9 983.8L527.1 978.5M541.3 991.3L542.4 996.3M544.4 1004.3L545.5 1009M547 1017L549 1031.5M550.3 1039.6L551.9 1048.4M553.5 1056.5L554.7 1061.5M556.1 1069.6L558.3 1090.1M559.3 1098.2L561.3 1113.7M562.5 1121.8L564.2 1132M565.3 1140.1L567.5 1161.1M568.4 1169.3L570.6 1187.6M571.6 1195.7L573.6 1211.6M574.6 1219.8L576.7 1238.3M577.9 1246.4L579.6 1256.2M580.7 1264.3L582.9 1285.1M583.9 1293.2L585.8 1305.8M587.1 1313.9L588.8 1323.9M590.2 1332L591.8 1340M593.3 1348.1L594.9 1356.9M596.5 1364.9L597.8 1370.6M599.5 1378.6L601 1386.5M602.9 1394.5L603.7 1397M605.8 1404.9L606.9 1409.3M612.2 1422.7L612.8 1424.9"/>
<g fill="url(#gk)"><circle cx="223.9" cy="1470.9" r="3.6"/><circle cx="226.9" cy="1471" r="3.6"/><circle cx="230" cy="1471" r="3.6"/><circle cx="233.1" cy="1471" r="3.6"/><circle cx="236.2" cy="1471" r="3.6"/><circle cx="239.2" cy="1471" r="3.6"/><circle cx="242.3" cy="1470.8" r="3.6"/><circle cx="245.4" cy="1470.4" r="3.6"/><circle cx="248.5" cy="1471" r="3.6"/><circle cx="251.5" cy="1471" r="3.6"/><circle cx="254.6" cy="1470.8" r="3.6"/><circle cx="257.7" cy="1471" r="3.6"/><circle cx="260.7" cy="1470.9" r="3.6"/><circle cx="263.8" cy="1470.5" r="3.6"/><circle cx="266.9" cy="1470.7" r="3.6"/><circle cx="270" cy="1471" r="3.6"/><circle cx="273" cy="1470.9" r="3.6"/><circle cx="276.1" cy="1471" r="3.6"/><circle cx="279.2" cy="1470.4" r="3.6"/><circle cx="282.2" cy="1470.3" r="3.6"/><circle cx="285.3" cy="1471" r="3.6"/><circle cx="288.4" cy="1471" r="3.6"/><circle cx="291.5" cy="1470.6" r="3.6"/><circle cx="294.5" cy="1471" r="3.6"/><circle cx="297.6" cy="1471" r="3.6"/><circle cx="300.7" cy="1471" r="3.6"/><circle cx="303.8" cy="1470.8" r="3.6"/><circle cx="306.8" cy="1470.8" r="3.6"/><circle cx="309.9" cy="1470" r="3.6"/><circle cx="313" cy="1470.8" r="3.6"/><circle cx="316" cy="1470.9" r="3.6"/><circle cx="319.1" cy="1471" r="3.6"/><circle cx="322.2" cy="1470.1" r="3.6"/><circle cx="325.3" cy="1470.3" r="3.6"/><circle cx="328.3" cy="1470.1" r="3.6"/><circle cx="331.4" cy="1471" r="3.6"/><circle cx="334.5" cy="1469.3" r="3.6"/><circle cx="337.5" cy="1469.9" r="3.6"/><circle cx="340.6" cy="1471" r="3.6"/><circle cx="343.7" cy="1470.7" r="3.6"/><circle cx="346.8" cy="1469.6" r="3.6"/><circle cx="349.8" cy="1470.1" r="3.6"/><circle cx="352.9" cy="1470.5" r="3.6"/><circle cx="356" cy="1470.2" r="3.6"/><circle cx="359.1" cy="1469.7" r="3.6"/><circle cx="362.1" cy="1469.2" r="3.6"/><circle cx="365.2" cy="1469.9" r="3.6"/><circle cx="368.3" cy="1469.3" r="3.6"/><circle cx="371.3" cy="1469.6" r="3.6"/><circle cx="374.4" cy="1469.1" r="3.6"/><circle cx="377.5" cy="1468.4" r="3.6"/><circle cx="380.6" cy="1469.2" r="3.6"/><circle cx="383.6" cy="1467.8" r="3.6"/><circle cx="386.7" cy="1468" r="3.6"/><circle cx="389.8" cy="1467.1" r="3.6"/><circle cx="392.8" cy="1466.9" r="3.6"/><circle cx="395.9" cy="1466.4" r="3.6"/><circle cx="399" cy="1465.7" r="3.6"/><circle cx="402.1" cy="1465.6" r="3.6"/><circle cx="405.1" cy="1465.6" r="3.6"/><circle cx="408.2" cy="1465.2" r="3.6"/><circle cx="411.3" cy="1464.1" r="3.6"/><circle cx="414.4" cy="1462" r="3.6"/><circle cx="417.4" cy="1461.9" r="3.6"/><circle cx="420.5" cy="1459.7" r="3.6"/><circle cx="423.6" cy="1459.1" r="3.6"/><circle cx="426.6" cy="1454.7" r="3.6"/><circle cx="429.7" cy="1454.5" r="3.6"/><circle cx="432.8" cy="1450" r="3.6"/><circle cx="435.9" cy="1448.2" r="3.6"/><circle cx="438.9" cy="1442.6" r="3.6"/><circle cx="442" cy="1439.4" r="3.6"/><circle cx="445.1" cy="1432.6" r="3.6"/><circle cx="448.1" cy="1424.2" r="3.6"/><circle cx="451.2" cy="1417.8" r="3.6"/><circle cx="454.3" cy="1410.1" r="3.6"/><circle cx="457.4" cy="1400.7" r="3.6"/><circle cx="460.4" cy="1385.6" r="3.6"/><circle cx="463.5" cy="1374.7" r="3.6"/><circle cx="466.6" cy="1361.5" r="3.6"/><circle cx="469.7" cy="1346.9" r="3.6"/><circle cx="472.7" cy="1330.8" r="3.6"/><circle cx="475.8" cy="1309.6" r="3.6"/><circle cx="478.9" cy="1287.5" r="3.6"/><circle cx="481.9" cy="1270.9" r="3.6"/><circle cx="485" cy="1246.4" r="3.6"/><circle cx="488.1" cy="1226.3" r="3.6"/><circle cx="491.2" cy="1197.7" r="3.6"/><circle cx="494.2" cy="1176.2" r="3.6"/><circle cx="497.3" cy="1146.6" r="3.6"/><circle cx="500.4" cy="1125" r="3.6"/><circle cx="503.4" cy="1100.2" r="3.6"/><circle cx="506.5" cy="1077.9" r="3.6"/><circle cx="509.6" cy="1052.3" r="3.6"/><circle cx="512.7" cy="1034.4" r="3.6"/><circle cx="515.7" cy="1014.7" r="3.6"/><circle cx="518.8" cy="1001.3" r="3.6"/><circle cx="521.9" cy="991" r="3.6"/><circle cx="525" cy="987.8" r="3.6"/><circle cx="528" cy="974.5" r="3.6"/><circle cx="531.1" cy="973.8" r="3.6"/><circle cx="534.2" cy="973.5" r="3.6"/><circle cx="537.2" cy="980.9" r="3.6"/><circle cx="540.3" cy="987.3" r="3.6"/><circle cx="543.4" cy="1000.3" r="3.6"/><circle cx="546.5" cy="1013" r="3.6"/><circle cx="549.5" cy="1035.6" r="3.6"/><circle cx="552.6" cy="1052.5" r="3.6"/><circle cx="555.7" cy="1065.5" r="3.6"/><circle cx="558.8" cy="1094.1" r="3.6"/><circle cx="561.8" cy="1117.7" r="3.6"/><circle cx="564.9" cy="1136" r="3.6"/><circle cx="568" cy="1165.2" r="3.6"/><circle cx="571" cy="1191.6" r="3.6"/><circle cx="574.1" cy="1215.7" r="3.6"/><circle cx="577.2" cy="1242.3" r="3.6"/><circle cx="580.3" cy="1260.2" r="3.6"/><circle cx="583.3" cy="1289.2" r="3.6"/><circle cx="586.4" cy="1309.8" r="3.6"/><circle cx="589.5" cy="1327.9" r="3.6"/><circle cx="592.5" cy="1344.1" r="3.6"/><circle cx="595.6" cy="1360.9" r="3.6"/><circle cx="598.7" cy="1374.6" r="3.6"/><circle cx="601.8" cy="1390.6" r="3.6"/><circle cx="604.8" cy="1401" r="3.6"/><circle cx="607.9" cy="1413.3" r="3.6"/><circle cx="611" cy="1418.8" r="3.6"/><circle cx="614.1" cy="1428.8" r="3.6"/><circle cx="617.1" cy="1433.1" r="3.6"/><circle cx="620.2" cy="1439.3" r="3.6"/><circle cx="623.3" cy="1443.3" r="3.6"/><circle cx="626.3" cy="1448.9" r="3.6"/><circle cx="629.4" cy="1451.9" r="3.6"/><circle cx="632.5" cy="1455.3" r="3.6"/><circle cx="635.6" cy="1458.4" r="3.6"/><circle cx="638.6" cy="1459.3" r="3.6"/><circle cx="641.7" cy="1461.3" r="3.6"/><circle cx="644.8" cy="1463" r="3.6"/><circle cx="647.8" cy="1463.6" r="3.6"/><circle cx="650.9" cy="1464.3" r="3.6"/><circle cx="654" cy="1465.7" r="3.6"/><circle cx="657.1" cy="1466.5" r="3.6"/><circle cx="660.1" cy="1467.2" r="3.6"/><circle cx="663.2" cy="1467.7" r="3.6"/><circle cx="666.3" cy="1467.3" r="3.6"/><circle cx="669.4" cy="1468.3" r="3.6"/><circle cx="672.4" cy="1469.1" r="3.6"/><circle cx="675.5" cy="1468.5" r="3.6"/><circle cx="678.6" cy="1469.2" r="3.6"/><circle cx="681.6" cy="1468.9" r="3.6"/><circle cx="684.7" cy="1469.5" r="3.6"/><circle cx="687.8" cy="1470.5" r="3.6"/><circle cx="690.9" cy="1469.8" r="3.6"/><circle cx="693.9" cy="1469.4" r="3.6"/><circle cx="697" cy="1470.2" r="3.6"/><circle cx="700.1" cy="1470.2" r="3.6"/><circle cx="703.1" cy="1470.8" r="3.6"/><circle cx="706.2" cy="1469.6" r="3.6"/><circle cx="709.3" cy="1469.9" r="3.6"/><circle cx="712.4" cy="1470.4" r="3.6"/><circle cx="715.4" cy="1469.8" r="3.6"/><circle cx="718.5" cy="1471" r="3.6"/><circle cx="721.6" cy="1469.6" r="3.6"/><circle cx="724.7" cy="1470.3" r="3.6"/><circle cx="727.7" cy="1470" r="3.6"/><circle cx="730.8" cy="1470.4" r="3.6"/><circle cx="733.9" cy="1471" r="3.6"/><circle cx="736.9" cy="1471" r="3.6"/><circle cx="740" cy="1471" r="3.6"/><circle cx="743.1" cy="1471" r="3.6"/><circle cx="746.2" cy="1469.9" r="3.6"/><circle cx="749.2" cy="1471" r="3.6"/><circle cx="752.3" cy="1470" r="3.6"/><circle cx="755.4" cy="1470.7" r="3.6"/><circle cx="758.4" cy="1470.8" r="3.6"/><circle cx="761.5" cy="1470.7" r="3.6"/><circle cx="764.6" cy="1471" r="3.6"/><circle cx="767.7" cy="1470.6" r="3.6"/><circle cx="770.7" cy="1471" r="3.6"/><circle cx="773.8" cy="1471" r="3.6"/><circle cx="776.9" cy="1471" r="3.6"/><circle cx="780" cy="1471" r="3.6"/><circle cx="783" cy="1471" r="3.6"/><circle cx="786.1" cy="1471" r="3.6"/><circle cx="789.2" cy="1471" r="3.6"/><circle cx="792.2" cy="1470.5" r="3.6"/><circle cx="795.3" cy="1471" r="3.6"/><circle cx="798.4" cy="1471" r="3.6"/><circle cx="801.5" cy="1470.9" r="3.6"/><circle cx="804.5" cy="1471" r="3.6"/><circle cx="807.6" cy="1470.6" r="3.6"/><circle cx="810.7" cy="1471" r="3.6"/><circle cx="813.7" cy="1471" r="3.6"/><circle cx="816.8" cy="1471" r="3.6"/><circle cx="819.9" cy="1471" r="3.6"/><circle cx="823" cy="1470.5" r="3.6"/><circle cx="826" cy="1470.1" r="3.6"/><circle cx="829.1" cy="1470.7" r="3.6"/><circle cx="832.2" cy="1470.9" r="3.6"/><circle cx="835.3" cy="1471" r="3.6"/><circle cx="838.3" cy="1470.9" r="3.6"/><circle cx="841.4" cy="1471" r="3.6"/><circle cx="844.5" cy="1471" r="3.6"/><circle cx="847.5" cy="1471" r="3.6"/><circle cx="850.6" cy="1471" r="3.6"/><circle cx="853.7" cy="1471" r="3.6"/><circle cx="856.8" cy="1470.9" r="3.6"/><circle cx="859.8" cy="1470.6" r="3.6"/><circle cx="862.9" cy="1470.5" r="3.6"/><circle cx="866" cy="1470.6" r="3.6"/><circle cx="869" cy="1471" r="3.6"/><circle cx="872.1" cy="1471" r="3.6"/><circle cx="875.2" cy="1470.9" r="3.6"/><circle cx="878.3" cy="1471" r="3.6"/><circle cx="881.3" cy="1470.7" r="3.6"/><circle cx="884.4" cy="1471" r="3.6"/><circle cx="887.5" cy="1471" r="3.6"/><circle cx="890.6" cy="1471" r="3.6"/><circle cx="893.6" cy="1471" r="3.6"/><circle cx="896.7" cy="1470.2" r="3.6"/></g>
<path fill="none" stroke="#ff0000" stroke-width="2.2" d="M424.7 1413.7L425.5 1410.6M430.6 1396.3L431.9 1390M436.8 1381.3L438 1376.6M442.7 1361.5L444.4 1352.4M449.2 1341.1L450.2 1337.5M452.2 1329.5L453.3 1325.5M454.7 1317.5L457 1295.4M461.2 1284L462.8 1275.4M464 1267.3L466.1 1247M467.9 1239L468.3 1237.7M470.5 1229.8L471.9 1222.5M473.7 1214.5L474.8 1209.9M476.3 1201.8L478.4 1183.2M479.7 1175.1L481.1 1168.4M482.6 1160.4L484.4 1148.9M485.8 1140.8L487.4 1132M488.7 1123.9L490.6 1111M492.1 1102.9L493.3 1098.1M495 1090.1L496.6 1081.4M497.8 1073.3L499.9 1056.3M504 1042.3L505.9 1029.2M507.6 1021.2L508.5 1018.1M513.6 1004.2L514.8 998.4M544.3 994.6L545.6 1000.5M553.2 1024.9L555.1 1037.9M556.4 1046L558 1054.8M559.4 1062.9L561.1 1073M562.9 1081L563.9 1084.8M565.5 1092.8L567.3 1104M568.5 1112.1L570.5 1127.3M571.8 1135.4L573.4 1144M574.7 1152.1L576.6 1165M577.7 1173.2L579.7 1188.4M581 1196.5L582.6 1205.7M583.8 1213.8L585.9 1229.8M587.4 1237.9L588.5 1242.7M590 1250.8L592 1265.4M593.4 1273.5L594.8 1280.2M596.2 1288.3L598.1 1301.3M602.6 1316.3L604 1322.4M605.5 1330.4L607.2 1340.1M612 1355.2L613 1359.1M615 1367L616.2 1371.7M618.3 1379.6L619 1381.8M624.3 1394.1L625.3 1398.3"/>
<g fill="url(#gr)"><circle cx="223.9" cy="1469.7" r="3.6"/><circle cx="226.9" cy="1470" r="3.6"/><circle cx="230" cy="1467.6" r="3.6"/><circle cx="233.1" cy="1468.8" r="3.6"/><circle cx="236.2" cy="1469.3" r="3.6"/><circle cx="239.2" cy="1470" r="3.6"/><circle cx="242.3" cy="1469.8" r="3.6"/><circle cx="245.4" cy="1468.5" r="3.6"/><circle cx="248.5" cy="1469.5" r="3.6"/><circle cx="251.5" cy="1470" r="3.6"/><circle cx="254.6" cy="1469.2" r="3.6"/><circle cx="257.7" cy="1470" r="3.6"/><circle cx="260.7" cy="1469" r="3.6"/><circle cx="263.8" cy="1466.7" r="3.6"/><circle cx="266.9" cy="1466.9" r="3.6"/><circle cx="270" cy="1467.8" r="3.6"/><circle cx="273" cy="1467.6" r="3.6"/><circle cx="276.1" cy="1468.7" r="3.6"/><circle cx="279.2" cy="1468.1" r="3.6"/><circle cx="282.2" cy="1470" r="3.6"/><circle cx="285.3" cy="1468.5" r="3.6"/><circle cx="288.4" cy="1469.4" r="3.6"/><circle cx="291.5" cy="1465.8" r="3.6"/><circle cx="294.5" cy="1466.1" r="3.6"/><circle cx="297.6" cy="1467.6" r="3.6"/><circle cx="300.7" cy="1466.5" r="3.6"/><circle cx="303.8" cy="1467.1" r="3.6"/><circle cx="306.8" cy="1466.3" r="3.6"/><circle cx="309.9" cy="1464.7" r="3.6"/><circle cx="313" cy="1468.1" r="3.6"/><circle cx="316" cy="1467" r="3.6"/><circle cx="319.1" cy="1462.5" r="3.6"/><circle cx="322.2" cy="1463.7" r="3.6"/><circle cx="325.3" cy="1464.4" r="3.6"/><circle cx="328.3" cy="1465.2" r="3.6"/><circle cx="331.4" cy="1463.7" r="3.6"/><circle cx="334.5" cy="1461.3" r="3.6"/><circle cx="337.5" cy="1464.4" r="3.6"/><circle cx="340.6" cy="1462.4" r="3.6"/><circle cx="343.7" cy="1464.3" r="3.6"/><circle cx="346.8" cy="1462.4" r="3.6"/><circle cx="349.8" cy="1463.2" r="3.6"/><circle cx="352.9" cy="1462.4" r="3.6"/><circle cx="356" cy="1462" r="3.6"/><circle cx="359.1" cy="1459.2" r="3.6"/><circle cx="362.1" cy="1461.2" r="3.6"/><circle cx="365.2" cy="1459.1" r="3.6"/><circle cx="368.3" cy="1456" r="3.6"/><circle cx="371.3" cy="1456.7" r="3.6"/><circle cx="374.4" cy="1455.9" r="3.6"/><circle cx="377.5" cy="1456.3" r="3.6"/><circle cx="380.6" cy="1455.7" r="3.6"/><circle cx="383.6" cy="1451.3" r="3.6"/><circle cx="386.7" cy="1453.2" r="3.6"/><circle cx="389.8" cy="1450.3" r="3.6"/><circle cx="392.8" cy="1446.8" r="3.6"/><circle cx="395.9" cy="1448.3" r="3.6"/><circle cx="399" cy="1443.1" r="3.6"/><circle cx="402.1" cy="1439.8" r="3.6"/><circle cx="405.1" cy="1440.7" r="3.6"/><circle cx="408.2" cy="1437.8" r="3.6"/><circle cx="411.3" cy="1431.1" r="3.6"/><circle cx="414.4" cy="1430.6" r="3.6"/><circle cx="417.4" cy="1426" r="3.6"/><circle cx="420.5" cy="1417.6" r="3.6"/><circle cx="423.6" cy="1417.7" r="3.6"/><circle cx="426.6" cy="1406.6" r="3.6"/><circle cx="429.7" cy="1400.3" r="3.6"/><circle cx="432.8" cy="1386" r="3.6"/><circle cx="435.9" cy="1385.3" r="3.6"/><circle cx="438.9" cy="1372.7" r="3.6"/><circle cx="442" cy="1365.5" r="3.6"/><circle cx="445.1" cy="1348.3" r="3.6"/><circle cx="448.1" cy="1345.1" r="3.6"/><circle cx="451.2" cy="1333.5" r="3.6"/><circle cx="454.3" cy="1321.6" r="3.6"/><circle cx="457.4" cy="1291.3" r="3.6"/><circle cx="460.4" cy="1288" r="3.6"/><circle cx="463.5" cy="1271.4" r="3.6"/><circle cx="466.6" cy="1242.9" r="3.6"/><circle cx="469.7" cy="1233.8" r="3.6"/><circle cx="472.7" cy="1218.4" r="3.6"/><circle cx="475.8" cy="1205.9" r="3.6"/><circle cx="478.9" cy="1179.1" r="3.6"/><circle cx="481.9" cy="1164.4" r="3.6"/><circle cx="485" cy="1144.8" r="3.6"/><circle cx="488.1" cy="1128" r="3.6"/><circle cx="491.2" cy="1106.9" r="3.6"/><circle cx="494.2" cy="1094.1" r="3.6"/><circle cx="497.3" cy="1077.3" r="3.6"/><circle cx="500.4" cy="1052.2" r="3.6"/><circle cx="503.4" cy="1046.4" r="3.6"/><circle cx="506.5" cy="1025.1" r="3.6"/><circle cx="509.6" cy="1014.1" r="3.6"/><circle cx="512.7" cy="1008.2" r="3.6"/><circle cx="515.7" cy="994.4" r="3.6"/><circle cx="518.8" cy="988.2" r="3.6"/><circle cx="521.9" cy="982.8" r="3.6"/><circle cx="525" cy="977.6" r="3.6"/><circle cx="528" cy="970.6" r="3.6"/><circle cx="531.1" cy="970" r="3.6"/><circle cx="534.2" cy="976.5" r="3.6"/><circle cx="537.2" cy="980.6" r="3.6"/><circle cx="540.3" cy="984.9" r="3.6"/><circle cx="543.4" cy="990.6" r="3.6"/><circle cx="546.5" cy="1004.5" r="3.6"/><circle cx="549.5" cy="1012.7" r="3.6"/><circle cx="552.6" cy="1020.9" r="3.6"/><circle cx="555.7" cy="1042" r="3.6"/><circle cx="558.8" cy="1058.9" r="3.6"/><circle cx="561.8" cy="1077" r="3.6"/><circle cx="564.9" cy="1088.8" r="3.6"/><circle cx="568" cy="1108.1" r="3.6"/><circle cx="571" cy="1131.4" r="3.6"/><circle cx="574.1" cy="1148" r="3.6"/><circle cx="577.2" cy="1169.1" r="3.6"/><circle cx="580.3" cy="1192.4" r="3.6"/><circle cx="583.3" cy="1209.7" r="3.6"/><circle cx="586.4" cy="1233.9" r="3.6"/><circle cx="589.5" cy="1246.7" r="3.6"/><circle cx="592.5" cy="1269.5" r="3.6"/><circle cx="595.6" cy="1284.2" r="3.6"/><circle cx="598.7" cy="1305.3" r="3.6"/><circle cx="601.8" cy="1312.2" r="3.6"/><circle cx="604.8" cy="1326.4" r="3.6"/><circle cx="607.9" cy="1344.2" r="3.6"/><circle cx="611" cy="1351.2" r="3.6"/><circle cx="614.1" cy="1363" r="3.6"/><circle cx="617.1" cy="1375.7" r="3.6"/><circle cx="620.2" cy="1385.8" r="3.6"/><circle cx="623.3" cy="1390.1" r="3.6"/><circle cx="626.3" cy="1402.3" r="3.6"/><circle cx="629.4" cy="1408.2" r="3.6"/><circle cx="632.5" cy="1415.4" r="3.6"/><circle cx="635.6" cy="1421.6" r="3.6"/><circle cx="638.6" cy="1426" r="3.6"/><circle cx="641.7" cy="1433.2" r="3.6"/><circle cx="644.8" cy="1436" r="3.6"/><circle cx="647.8" cy="1438.2" r="3.6"/><circle cx="650.9" cy="1441.9" r="3.6"/><circle cx="654" cy="1446.5" r="3.6"/><circle cx="657.1" cy="1448.4" r="3.6"/><circle cx="660.1" cy="1451.4" r="3.6"/><circle cx="663.2" cy="1450.7" r="3.6"/><circle cx="666.3" cy="1452.8" r="3.6"/><circle cx="669.4" cy="1457.5" r="3.6"/><circle cx="672.4" cy="1455.2" r="3.6"/><circle cx="675.5" cy="1459.2" r="3.6"/><circle cx="678.6" cy="1458.8" r="3.6"/><circle cx="681.6" cy="1457.5" r="3.6"/><circle cx="684.7" cy="1456.7" r="3.6"/><circle cx="687.8" cy="1460.8" r="3.6"/><circle cx="690.9" cy="1459.3" r="3.6"/><circle cx="693.9" cy="1459.9" r="3.6"/><circle cx="697" cy="1458.7" r="3.6"/><circle cx="700.1" cy="1464" r="3.6"/><circle cx="703.1" cy="1462.7" r="3.6"/><circle cx="706.2" cy="1463" r="3.6"/><circle cx="709.3" cy="1464" r="3.6"/><circle cx="712.4" cy="1464.1" r="3.6"/><circle cx="715.4" cy="1464.3" r="3.6"/><circle cx="718.5" cy="1465.3" r="3.6"/><circle cx="721.6" cy="1464.3" r="3.6"/><circle cx="724.7" cy="1461" r="3.6"/><circle cx="727.7" cy="1466.5" r="3.6"/><circle cx="730.8" cy="1466.3" r="3.6"/><circle cx="733.9" cy="1465.9" r="3.6"/><circle cx="736.9" cy="1468.6" r="3.6"/><circle cx="740" cy="1464.2" r="3.6"/><circle cx="743.1" cy="1462.1" r="3.6"/><circle cx="746.2" cy="1469.1" r="3.6"/><circle cx="749.2" cy="1467.7" r="3.6"/><circle cx="752.3" cy="1464.7" r="3.6"/><circle cx="755.4" cy="1466.8" r="3.6"/><circle cx="758.4" cy="1468.5" r="3.6"/><circle cx="761.5" cy="1465.9" r="3.6"/><circle cx="764.6" cy="1468.8" r="3.6"/><circle cx="767.7" cy="1470" r="3.6"/><circle cx="770.7" cy="1470" r="3.6"/><circle cx="773.8" cy="1468.3" r="3.6"/><circle cx="776.9" cy="1468.9" r="3.6"/><circle cx="780" cy="1467.1" r="3.6"/><circle cx="783" cy="1468.9" r="3.6"/><circle cx="786.1" cy="1468.3" r="3.6"/><circle cx="789.2" cy="1467.4" r="3.6"/><circle cx="792.2" cy="1467" r="3.6"/><circle cx="795.3" cy="1470" r="3.6"/><circle cx="798.4" cy="1469.3" r="3.6"/><circle cx="801.5" cy="1467.7" r="3.6"/><circle cx="804.5" cy="1468.7" r="3.6"/><circle cx="807.6" cy="1470" r="3.6"/><circle cx="810.7" cy="1470" r="3.6"/><circle cx="813.7" cy="1468.6" r="3.6"/><circle cx="816.8" cy="1469.8" r="3.6"/><circle cx="819.9" cy="1470" r="3.6"/><circle cx="823" cy="1469.1" r="3.6"/><circle cx="826" cy="1467.9" r="3.6"/><circle cx="829.1" cy="1468.3" r="3.6"/><circle cx="832.2" cy="1469.8" r="3.6"/><circle cx="835.3" cy="1468.6" r="3.6"/><circle cx="838.3" cy="1467.9" r="3.6"/><circle cx="841.4" cy="1469.5" r="3.6"/><circle cx="844.5" cy="1470" r="3.6"/><circle cx="847.5" cy="1470" r="3.6"/><circle cx="850.6" cy="1469.6" r="3.6"/><circle cx="853.7" cy="1470" r="3.6"/><circle cx="856.8" cy="1468.8" r="3.6"/><circle cx="859.8" cy="1469.9" r="3.6"/><circle cx="862.9" cy="1468" r="3.6"/><circle cx="866" cy="1470" r="3.6"/><circle cx="869" cy="1469.8" r="3.6"/><circle cx="872.1" cy="1467.5" r="3.6"/><circle cx="875.2" cy="1468.8" r="3.6"/><circle cx="878.3" cy="1470" r="3.6"/><circle cx="881.3" cy="1470" r="3.6"/><circle cx="884.4" cy="1470" r="3.6"/><circle cx="887.5" cy="1470" r="3.6"/><circle cx="890.6" cy="1467.7" r="3.6"/><circle cx="893.6" cy="1468.9" r="3.6"/><circle cx="896.7" cy="1468.1" r="3.6"/></g>
<g stroke-width="2.8" stroke-linecap="round"><line x1="114.6" y1="876" x2="142.8" y2="876" stroke="#000"/><line x1="174.1" y1="876" x2="201.8" y2="876" stroke="#000"/><line x1="114.6" y1="937.7" x2="142.8" y2="937.7" stroke="#ff0000"/><line x1="174.1" y1="937.7" x2="201.8" y2="937.7" stroke="#ff0000"/></g><circle cx="158.3" cy="875.8" r="3.9" fill="url(#gk)"/><circle cx="158.3" cy="937.7" r="3.9" fill="url(#gr)"/>
<text x="211.5" y="888.2" font-size="38">N<tspan x="239.5" y="903.4" font-size="21.5">2</tspan><tspan x="250.2" y="888.2" textLength="143.5" lengthAdjust="spacingAndGlyphs">/Ar~0.43</tspan></text>
<text x="211.5" y="949.4" font-size="38">N<tspan x="239.5" y="964.6" font-size="21.5">2</tspan><tspan x="250.2" y="949.4" textLength="142" lengthAdjust="spacingAndGlyphs">/Ar~0.67</tspan></text>
<text class="sans" x="22.9" y="863.3" font-size="34">(b)</text>
<text x="767.3" y="890.3" font-size="38" textLength="169.5" lengthAdjust="spacingAndGlyphs">AlN(1120)</text><line x1="884.7" y1="854.4" x2="904.6" y2="854.4" stroke="#000" stroke-width="2.8"/>
<text class="red" x="614.2" y="1211.1" font-size="36" textLength="198.5" lengthAdjust="spacingAndGlyphs">13024 arcsec</text>
<text x="704" y="1320.4" font-size="36" textLength="180" lengthAdjust="spacingAndGlyphs">9840 arcsec</text>
<g stroke="#ff0000" stroke-width="1.5" fill="#ff0000"><line x1="347.2" y1="1228.6" x2="458" y2="1228.6"/><path d="M466.6 1228.6 L450 1224.6 L450 1232.6 Z" stroke="none"/><line x1="698.5" y1="1228.2" x2="594" y2="1228.2"/><path d="M585.8 1228.2 L602.4 1224.2 L602.4 1232.2 Z" stroke="none"/></g><g stroke="#000" stroke-width="1.5" fill="#000"><line x1="501" y1="1228.8" x2="563" y2="1228.8"/><path d="M493.3 1228.8 L509.9 1224.8 L509.9 1232.8 Z" stroke="none"/><path d="M571.1 1228.8 L554.5 1224.8 L554.5 1232.8 Z" stroke="none"/><polyline fill="none" points="677.2,1303.9 639.8,1303.9 541,1250.3"/><path d="M534.1 1246.5 L550.6 1250.9 L546.8 1258 Z" stroke="none"/><circle cx="677.2" cy="1303.9" r="3.4" stroke="none"/></g>
<text x="188.9" y="1515.3" font-size="36.5" text-anchor="middle">-40000</text><text x="359.6" y="1515.3" font-size="36.5" text-anchor="middle">-20000</text><text x="531.1" y="1515.3" font-size="36.5" text-anchor="middle">0</text><text x="701.8" y="1515.3" font-size="36.5" text-anchor="middle">20000</text><text x="872.5" y="1515.3" font-size="36.5" text-anchor="middle">40000</text>
<text x="319.3" y="1588.7" font-size="45.5" textLength="418.5" lengthAdjust="spacing">Omega scan(arcsec)</text>
<text transform="translate(61.2 1345.8) rotate(-90)" font-size="46" textLength="312" lengthAdjust="spacing">Intensity (a.u.)</text>
</svg></body></html>
